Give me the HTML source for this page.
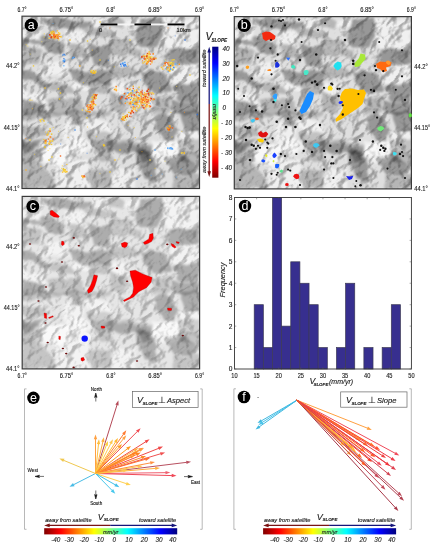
<!DOCTYPE html>
<html><head><meta charset="utf-8"><style>
html,body{margin:0;padding:0;background:#fff;width:433px;height:550px;overflow:hidden}
svg{display:block}
text{font-family:'Liberation Sans',Arial,sans-serif;fill:#1a1a1a;stroke:#1a1a1a;stroke-width:0.12px}
.it{font-style:italic}
</style></head><body>
<svg width="433" height="550" viewBox="0 0 433 550">

<defs><linearGradient id="jetv" x1="0" y1="0" x2="0" y2="1"><stop offset="0.000" stop-color="#00007f"/><stop offset="0.062" stop-color="#0000bf"/><stop offset="0.125" stop-color="#0000ff"/><stop offset="0.188" stop-color="#003fff"/><stop offset="0.250" stop-color="#007fff"/><stop offset="0.312" stop-color="#00bfff"/><stop offset="0.375" stop-color="#00ffff"/><stop offset="0.438" stop-color="#3fffbf"/><stop offset="0.500" stop-color="#7fff7f"/><stop offset="0.562" stop-color="#bfff3f"/><stop offset="0.625" stop-color="#ffff00"/><stop offset="0.688" stop-color="#ffbf00"/><stop offset="0.750" stop-color="#ff7f00"/><stop offset="0.812" stop-color="#ff3f00"/><stop offset="0.875" stop-color="#ff0000"/><stop offset="0.938" stop-color="#bf0000"/><stop offset="1.000" stop-color="#7f0000"/></linearGradient><linearGradient id="jeth" x1="0" y1="0" x2="1" y2="0"><stop offset="0.000" stop-color="#7f0000"/><stop offset="0.062" stop-color="#bf0000"/><stop offset="0.125" stop-color="#ff0000"/><stop offset="0.188" stop-color="#ff3f00"/><stop offset="0.250" stop-color="#ff7f00"/><stop offset="0.312" stop-color="#ffbf00"/><stop offset="0.375" stop-color="#ffff00"/><stop offset="0.438" stop-color="#bfff3f"/><stop offset="0.500" stop-color="#7fff7f"/><stop offset="0.562" stop-color="#3fffbf"/><stop offset="0.625" stop-color="#00ffff"/><stop offset="0.688" stop-color="#00bfff"/><stop offset="0.750" stop-color="#007fff"/><stop offset="0.812" stop-color="#003fff"/><stop offset="0.875" stop-color="#0000ff"/><stop offset="0.938" stop-color="#0000bf"/><stop offset="1.000" stop-color="#00007f"/></linearGradient><filter id="bl" x="-5%" y="-5%" width="110%" height="110%"><feTurbulence type="fractalNoise" baseFrequency="0.07" numOctaves="3" seed="2" result="t"/><feDisplacementMap in="SourceGraphic" in2="t" scale="9" xChannelSelector="R" yChannelSelector="G" result="d"/><feGaussianBlur in="d" stdDeviation="1.0"/></filter>
<filter id="tx" x="0" y="0" width="100%" height="100%" color-interpolation-filters="sRGB">
<feTurbulence type="fractalNoise" baseFrequency="0.04 0.06" numOctaves="4" seed="8" result="n"/>
<feColorMatrix in="n" type="matrix" values="0 0 0 0 0  0 0 0 0 0  0 0 0 0 0  1 0 0 0 0" result="h0"/>
<feComponentTransfer in="h0" result="h"><feFuncA type="table" tableValues="0 1 0"/></feComponentTransfer>
<feDiffuseLighting in="h" surfaceScale="5" diffuseConstant="1.45" lighting-color="#fff" result="l"><feDistantLight azimuth="225" elevation="42"/></feDiffuseLighting>
</filter>
<filter id="tx2" x="0" y="0" width="100%" height="100%" color-interpolation-filters="sRGB">
<feTurbulence type="fractalNoise" baseFrequency="0.035 0.07" numOctaves="4" seed="21" result="n"/>
<feColorMatrix in="n" type="matrix" values="0 0 0 0 0  0 0 0 0 0  0 0 0 0 0  1 0 0 0 0" result="h0"/>
<feComponentTransfer in="h0" result="h"><feFuncA type="table" tableValues="0 1 0"/></feComponentTransfer>
<feDiffuseLighting in="h" surfaceScale="5" diffuseConstant="1.45" lighting-color="#fff" result="l"><feDistantLight azimuth="225" elevation="42"/></feDiffuseLighting>
</filter><filter id="toneA" x="0" y="0" width="100%" height="100%" color-interpolation-filters="sRGB"><feComponentTransfer><feFuncR type="linear" slope="0.94" intercept="0.06"/><feFuncG type="linear" slope="0.94" intercept="0.06"/><feFuncB type="linear" slope="0.94" intercept="0.06"/></feComponentTransfer></filter><filter id="toneB" x="0" y="0" width="100%" height="100%" color-interpolation-filters="sRGB"><feComponentTransfer><feFuncR type="linear" slope="0.94" intercept="0.06"/><feFuncG type="linear" slope="0.94" intercept="0.06"/><feFuncB type="linear" slope="0.94" intercept="0.06"/></feComponentTransfer></filter><filter id="toneC" x="0" y="0" width="100%" height="100%" color-interpolation-filters="sRGB"><feComponentTransfer><feFuncR type="linear" slope="0.75" intercept="0.25"/><feFuncG type="linear" slope="0.75" intercept="0.25"/><feFuncB type="linear" slope="0.75" intercept="0.25"/></feComponentTransfer></filter><symbol id="relief" viewBox="0 0 178 172.5" width="178" height="172.5" overflow="hidden"><rect width="178" height="172.5" fill="#dedede"/><g filter="url(#bl)" fill="#fff"><polygon points="-0.5,14.0 20.3,15.0 20.3,26.5 -0.5,25.0" fill-opacity="0.55"/><polygon points="43.2,14.0 61.9,15.0 61.9,28.6 43.2,27.0" fill-opacity="0.55"/><polygon points="68.1,1.6 89.5,1.6 89.5,12.0 68.1,10.0" fill-opacity="0.55"/><polygon points="140.5,1.6 178.5,1.6 178.5,30.0 150.0,32.8 142.0,25.0" fill-opacity="0.55"/><polygon points="101.0,1.6 117.6,1.6 117.6,10.0 101.0,10.0" fill-opacity="0.55"/><polygon points="20.3,47.5 47.3,47.5 47.3,60.0 20.3,58.0" fill-opacity="0.55"/><polygon points="49.4,60.0 68.1,62.0 68.1,74.5 49.4,72.0" fill-opacity="0.55"/><polygon points="-0.5,74.5 24.4,76.0 24.4,89.0 -0.5,87.0" fill-opacity="0.55"/><polygon points="146.7,47.5 178.5,47.5 178.5,64.0 150.0,66.2" fill-opacity="0.55"/><polygon points="88.5,66.2 107.2,66.2 107.2,78.7 88.5,78.7" fill-opacity="0.55"/><polygon points="41.1,108.0 61.9,108.0 61.9,137.0 45.0,137.0" fill-opacity="0.55"/><polygon points="61.9,99.7 89.5,105.0 89.5,116.3 64.0,114.0" fill-opacity="0.55"/><polygon points="20.3,128.8 49.4,128.8 49.4,145.6 20.3,145.6" fill-opacity="0.55"/><polygon points="130.1,126.7 157.1,126.7 157.1,145.6 130.1,145.6" fill-opacity="0.55"/><polygon points="157.1,116.3 178.5,116.3 178.5,137.1 160.0,137.1" fill-opacity="0.55"/><polygon points="12.0,129.7 47.3,129.7 47.3,148.4 12.0,148.4" fill-opacity="0.55"/><polygon points="30.7,144.3 68.1,144.3 68.1,172.6 36.0,172.6" fill-opacity="0.55"/><polygon points="51.5,123.5 70.2,123.5 70.2,133.9 51.5,133.9" fill-opacity="0.55"/><polygon points="130.1,123.5 157.1,123.5 157.1,140.1 130.1,140.1" fill-opacity="0.55"/><polygon points="88.5,152.6 113.4,152.6 113.4,172.6 88.5,172.6" fill-opacity="0.55"/></g><g filter="url(#bl)" fill="#000"><polygon points="20.3,1.6 49.4,1.6 68.1,5.7 68.1,9.9 49.4,12.0 30.7,10.9 20.3,7.8" fill-opacity="0.34"/><polygon points="59.8,10.9 76.4,12.0 89.5,15.1 89.5,20.3 74.3,19.3 61.9,16.1" fill-opacity="0.2"/><polygon points="-0.5,22.4 18.2,23.4 20.3,27.6 -0.5,28.6" fill-opacity="0.34"/><polygon points="18.2,20.3 30.7,20.3 43.2,28.6 43.2,39.0 30.7,36.9 20.3,30.7" fill-opacity="0.34"/><polygon points="45.2,28.6 61.9,28.6 68.1,41.1 51.5,41.1" fill-opacity="0.2"/><polygon points="68.1,28.0 89.5,29.0 89.5,50.0 72.0,49.0" fill-opacity="0.34"/><polygon points="-0.5,30.7 18.2,32.8 18.2,49.6 -0.5,49.6" fill-opacity="0.2"/><polygon points="117.6,1.6 140.5,1.6 141.5,20.3 134.2,30.7 117.6,30.7 114.5,18.2" fill-opacity="0.34"/><polygon points="88.5,1.6 101.0,2.6 101.0,12.0 88.5,12.0" fill-opacity="0.2"/><polygon points="88.5,30.7 117.6,32.8 117.6,41.1 88.5,40.0" fill-opacity="0.2"/><polygon points="148.8,32.8 178.5,30.7 178.5,49.6 146.7,49.6" fill-opacity="0.34"/><polygon points="88.5,20.3 109.3,22.4 113.4,30.7 88.5,30.7" fill-opacity="0.2"/><polygon points="-0.5,53.7 12.0,56.9 26.5,67.2 24.4,71.4 9.9,64.1 -0.5,62.1" fill-opacity="0.34"/><polygon points="47.3,54.0 89.5,54.0 89.5,68.0 68.1,68.0 51.5,65.0" fill-opacity="0.34"/><polygon points="24.4,66.2 49.4,70.4 51.5,78.7 30.7,76.6" fill-opacity="0.2"/><polygon points="68.1,65.2 89.5,66.2 89.5,78.7 70.2,76.6" fill-opacity="0.2"/><polygon points="-0.5,82.8 20.3,88.0 26.5,97.6 -0.5,97.6" fill-opacity="0.34"/><polygon points="26.5,82.8 61.9,83.9 64.0,97.6 30.7,97.6" fill-opacity="0.2"/><polygon points="117.6,53.7 142.6,55.8 148.8,74.5 130.1,74.5 119.7,66.2" fill-opacity="0.34"/><polygon points="88.5,49.6 115.5,51.7 115.5,60.0 88.5,60.0" fill-opacity="0.2"/><polygon points="148.8,68.3 178.5,66.2 178.5,84.9 157.1,84.9" fill-opacity="0.34"/><polygon points="88.5,76.6 105.1,78.7 105.1,97.6 88.5,97.6" fill-opacity="0.2"/><polygon points="132.2,78.7 150.9,80.8 150.9,97.6 132.2,97.6" fill-opacity="0.2"/><polygon points="152.0,86.0 178.5,85.0 178.5,97.6 154.0,97.6" fill-opacity="0.34"/><polygon points="41.1,95.5 57.7,95.5 61.9,108.0 51.5,108.0" fill-opacity="0.34"/><polygon points="57.7,95.5 89.5,95.5 89.5,99.7 61.9,101.7" fill-opacity="0.2"/><polygon points="-0.5,108.0 22.4,112.1 24.4,120.4 -0.5,118.4" fill-opacity="0.2"/><polygon points="66.0,118.0 89.5,116.0 89.5,135.0 70.0,135.0" fill-opacity="0.14"/><polygon points="-0.5,124.6 20.3,128.8 20.3,145.6 -0.5,145.6" fill-opacity="0.2"/><polygon points="-0.5,95.5 41.1,95.5 39.0,101.7 -0.5,103.8" fill-opacity="0.2"/><polygon points="132.2,99.7 144.6,97.6 157.1,114.2 152.9,126.7 142.6,122.5 134.2,112.1" fill-opacity="0.34"/><polygon points="157.1,95.5 178.5,95.5 178.5,114.2 163.3,116.3" fill-opacity="0.34"/><polygon points="88.5,122.5 130.1,128.8 130.1,137.1 88.5,135.0" fill-opacity="0.2"/><polygon points="115.5,132.9 130.1,135.0 136.3,145.6 119.7,145.6" fill-opacity="0.34"/><polygon points="157.1,137.1 178.5,136.0 178.5,145.6 157.1,145.6" fill-opacity="0.2"/><polygon points="-0.5,123.5 22.4,123.5 12.0,133.9 -0.5,138.1" fill-opacity="0.34"/><polygon points="70.2,123.5 89.5,123.5 89.5,146.4 78.5,144.3" fill-opacity="0.2"/><polygon points="-0.5,142.2 16.1,146.4 30.7,160.9 34.8,172.6 -0.5,172.6" fill-opacity="0.2"/><polygon points="68.1,154.7 89.5,154.7 89.5,172.6 70.2,172.6" fill-opacity="0.2"/><polygon points="88.5,125.6 130.1,131.8 130.1,138.1 88.5,136.0" fill-opacity="0.2"/><polygon points="113.4,136.0 125.9,133.9 136.3,150.5 134.2,165.1 123.8,163.0 115.5,148.4" fill-opacity="0.34"/><polygon points="157.1,123.5 178.5,123.5 178.5,140.1 159.2,138.1" fill-opacity="0.2"/><polygon points="142.6,142.2 157.1,140.1 175.8,146.4 173.7,158.8 150.9,158.8" fill-opacity="0.34"/><polygon points="150.9,159.9 178.5,159.9 178.5,172.6 150.9,172.6" fill-opacity="0.2"/></g><g style="mix-blend-mode:multiply" opacity="0.34"><rect x="-60" y="-60" width="300" height="300" filter="url(#tx)" transform="rotate(-35 89 86)"/></g></symbol></defs>
<g filter="url(#toneA)"><use href="#relief" x="22.0" y="16.2" width="177.5" height="172.3"/></g><rect x="22.0" y="16.2" width="177.5" height="172.3" fill="none" stroke="#3a3a3a" stroke-width="1.2"/><g filter="url(#toneB)"><use href="#relief" x="234.3" y="16.6" width="177.1" height="172.3"/></g><rect x="234.3" y="16.6" width="177.1" height="172.3" fill="none" stroke="#3a3a3a" stroke-width="1.2"/><g filter="url(#toneC)"><use href="#relief" x="22.2" y="196.4" width="177.4" height="172.5"/></g><rect x="22.2" y="196.4" width="177.4" height="172.5" fill="none" stroke="#3a3a3a" stroke-width="1.2"/>
<g><g opacity="0.9"><ellipse cx="55.0" cy="35.0" rx="8.0" ry="6.0" fill="#f4f0f4" opacity="0.18"/><rect x="57.0" y="37.6" width="1.4" height="1.4" fill="#ffc020"/><rect x="56.0" y="37.0" width="1.6" height="1.6" fill="#ff9a1a"/><rect x="51.3" y="36.9" width="1.0" height="1.0" fill="#e83a10"/><rect x="59.1" y="32.5" width="1.3" height="1.3" fill="#ffe050"/><rect x="53.7" y="33.9" width="1.2" height="1.2" fill="#ffc020"/><rect x="52.4" y="30.8" width="1.7" height="1.7" fill="#ff9a1a"/><rect x="58.1" y="38.3" width="1.1" height="1.1" fill="#ff9a1a"/><rect x="50.1" y="35.3" width="1.2" height="1.2" fill="#ffc020"/><rect x="57.3" y="37.3" width="1.3" height="1.3" fill="#e83a10"/><rect x="56.3" y="35.0" width="1.5" height="1.5" fill="#ff7a10"/><rect x="57.1" y="36.2" width="1.6" height="1.6" fill="#ff8a20"/><rect x="53.2" y="35.5" width="1.4" height="1.4" fill="#d82a10"/><rect x="51.8" y="36.4" width="1.3" height="1.3" fill="#ffc020"/><rect x="53.8" y="34.8" width="1.1" height="1.1" fill="#ffc020"/><rect x="55.6" y="34.3" width="1.4" height="1.4" fill="#e83a10"/><rect x="51.4" y="33.2" width="1.7" height="1.7" fill="#ffc830"/><rect x="55.3" y="35.8" width="1.2" height="1.2" fill="#ff6a18"/><rect x="51.7" y="37.2" width="1.2" height="1.2" fill="#ffc830"/><rect x="58.3" y="39.4" width="1.1" height="1.1" fill="#ffe050"/><rect x="50.5" y="36.9" width="1.5" height="1.5" fill="#e83a10"/><rect x="58.7" y="33.4" width="1.6" height="1.6" fill="#ffc020"/><rect x="49.0" y="34.0" width="1.7" height="1.7" fill="#e83a10"/><rect x="54.9" y="35.0" width="1.6" height="1.6" fill="#ffc020"/><rect x="56.9" y="34.9" width="1.6" height="1.6" fill="#d82a10"/><rect x="56.9" y="34.8" width="1.3" height="1.3" fill="#ff6a18"/><rect x="53.2" y="33.3" width="1.1" height="1.1" fill="#ffc020"/><rect x="56.1" y="34.7" width="1.5" height="1.5" fill="#ffc020"/><rect x="56.6" y="34.5" width="1.6" height="1.6" fill="#f05a10"/><rect x="57.8" y="32.1" width="1.3" height="1.3" fill="#ffc020"/><rect x="52.9" y="37.3" width="1.2" height="1.2" fill="#ff9a1a"/><rect x="52.9" y="35.1" width="1.5" height="1.5" fill="#ff5010"/><rect x="50.0" y="32.2" width="1.6" height="1.6" fill="#ffe050"/><rect x="54.0" y="36.7" width="1.7" height="1.7" fill="#f05a10"/><rect x="55.5" y="35.3" width="1.1" height="1.1" fill="#ff9a1a"/><rect x="50.6" y="31.1" width="1.1" height="1.1" fill="#ffc830"/><rect x="53.3" y="33.2" width="1.4" height="1.4" fill="#ff6a18"/><rect x="48.5" y="37.5" width="1.4" height="1.4" fill="#ffd040"/><rect x="55.6" y="36.5" width="1.5" height="1.5" fill="#ffb020"/><rect x="50.9" y="32.4" width="1.5" height="1.5" fill="#ffb020"/><rect x="54.4" y="34.0" width="1.3" height="1.3" fill="#ff7a10"/><rect x="50.6" y="36.1" width="1.6" height="1.6" fill="#e83a10"/><rect x="54.3" y="38.3" width="1.2" height="1.2" fill="#ffb020"/><rect x="54.3" y="35.7" width="1.5" height="1.5" fill="#d82a10"/><rect x="56.9" y="30.2" width="1.3" height="1.3" fill="#ffc830"/><rect x="53.1" y="34.0" width="1.4" height="1.4" fill="#ff6a18"/><rect x="57.2" y="33.8" width="1.5" height="1.5" fill="#ff8a20"/><rect x="60.1" y="35.9" width="1.7" height="1.7" fill="#ffd22a"/><rect x="59.1" y="35.8" width="1.3" height="1.3" fill="#ff7a10"/><rect x="51.4" y="31.4" width="1.6" height="1.6" fill="#e8c428"/><rect x="52.0" y="30.8" width="1.3" height="1.3" fill="#f0c830"/><rect x="55.4" y="33.8" width="1.0" height="1.0" fill="#ffe050"/><rect x="57.0" y="34.8" width="1.4" height="1.4" fill="#f0c830"/><rect x="53.8" y="31.7" width="1.2" height="1.2" fill="#f0c830"/><rect x="53.0" y="35.8" width="1.6" height="1.6" fill="#ff7a10"/><rect x="56.5" y="34.7" width="1.3" height="1.3" fill="#ff8a20"/><ellipse cx="63.8" cy="58.8" rx="3.2" ry="7.2" fill="#f4f0f4" opacity="0.2"/><rect x="63.3" y="53.7" width="1.5" height="1.5" fill="#2a70e0"/><rect x="63.2" y="65.1" width="1.3" height="1.3" fill="#60b0ff"/><rect x="63.3" y="58.1" width="1.2" height="1.2" fill="#2a70e0"/><rect x="64.5" y="54.7" width="1.1" height="1.1" fill="#4aa0f8"/><rect x="63.8" y="59.2" width="1.7" height="1.7" fill="#60b0ff"/><rect x="63.6" y="60.9" width="1.5" height="1.5" fill="#2a70e0"/><rect x="62.1" y="54.5" width="1.2" height="1.2" fill="#3a8cf0"/><rect x="62.6" y="60.1" width="1.6" height="1.6" fill="#4aa0f8"/><rect x="73.6" y="56.9" width="1.2" height="1.2" fill="#2a70e0"/><rect x="72.8" y="56.9" width="1.3" height="1.3" fill="#60b0ff"/><rect x="71.9" y="57.8" width="1.2" height="1.2" fill="#4aa0f8"/><rect x="72.4" y="56.6" width="1.1" height="1.1" fill="#4aa0f8"/><ellipse cx="92.8" cy="71.5" rx="4.2" ry="3.5" fill="#f4f0f4" opacity="0.2"/><rect x="94.8" y="71.2" width="1.7" height="1.7" fill="#ffe050"/><rect x="94.2" y="71.2" width="1.0" height="1.0" fill="#ffc020"/><rect x="90.3" y="71.1" width="1.7" height="1.7" fill="#ffc020"/><rect x="92.9" y="72.1" width="1.0" height="1.0" fill="#f0c830"/><rect x="93.9" y="72.4" width="1.6" height="1.6" fill="#ffc020"/><rect x="92.9" y="70.0" width="1.3" height="1.3" fill="#ffc020"/><rect x="92.1" y="72.3" width="1.6" height="1.6" fill="#ffc020"/><rect x="95.3" y="69.8" width="1.0" height="1.0" fill="#ffc020"/><rect x="93.5" y="71.3" width="1.6" height="1.6" fill="#f0c830"/><rect x="93.2" y="72.0" width="1.4" height="1.4" fill="#ffc020"/><rect x="90.7" y="69.8" width="1.6" height="1.6" fill="#ffe050"/><rect x="92.7" y="71.5" width="1.2" height="1.2" fill="#ffd22a"/><ellipse cx="123.5" cy="65.0" rx="4.5" ry="3.5" fill="#f4f0f4" opacity="0.3"/><rect x="123.5" y="64.2" width="1.0" height="1.0" fill="#3a8cf0"/><rect x="122.4" y="63.7" width="1.2" height="1.2" fill="#3a8cf0"/><rect x="124.1" y="65.8" width="1.2" height="1.2" fill="#60b0ff"/><rect x="123.1" y="64.7" width="1.7" height="1.7" fill="#2a70e0"/><rect x="120.5" y="65.3" width="1.5" height="1.5" fill="#60b0ff"/><rect x="125.8" y="65.5" width="1.1" height="1.1" fill="#3a8cf0"/><rect x="122.4" y="62.6" width="1.4" height="1.4" fill="#4aa0f8"/><rect x="124.5" y="64.5" width="1.3" height="1.3" fill="#60b0ff"/><rect x="124.1" y="61.7" width="1.5" height="1.5" fill="#4aa0f8"/><rect x="121.7" y="62.6" width="1.4" height="1.4" fill="#3a8cf0"/><rect x="124.4" y="63.9" width="1.7" height="1.7" fill="#2a70e0"/><rect x="124.4" y="64.4" width="1.4" height="1.4" fill="#3a8cf0"/><rect x="123.0" y="62.6" width="1.1" height="1.1" fill="#60b0ff"/><rect x="119.9" y="63.5" width="1.5" height="1.5" fill="#2a70e0"/><ellipse cx="148.0" cy="58.7" rx="8.0" ry="7.3" fill="#f4f0f4" opacity="0.18"/><rect x="149.5" y="56.7" width="1.4" height="1.4" fill="#ffc020"/><rect x="141.1" y="56.6" width="1.3" height="1.3" fill="#f05a10"/><rect x="154.9" y="57.6" width="1.7" height="1.7" fill="#ff9a1a"/><rect x="153.0" y="57.4" width="1.5" height="1.5" fill="#ff8a20"/><rect x="151.0" y="56.2" width="1.6" height="1.6" fill="#ffe050"/><rect x="149.2" y="59.7" width="1.3" height="1.3" fill="#d82a10"/><rect x="148.0" y="52.8" width="1.5" height="1.5" fill="#f0c830"/><rect x="150.0" y="63.5" width="1.2" height="1.2" fill="#ff6a18"/><rect x="146.9" y="61.9" width="1.3" height="1.3" fill="#ffb020"/><rect x="148.1" y="55.3" width="1.3" height="1.3" fill="#ffe050"/><rect x="146.7" y="52.8" width="1.7" height="1.7" fill="#e83a10"/><rect x="147.8" y="58.6" width="1.5" height="1.5" fill="#ffe050"/><rect x="148.1" y="60.1" width="1.5" height="1.5" fill="#ff6a18"/><rect x="146.8" y="57.2" width="1.6" height="1.6" fill="#f05a10"/><rect x="143.5" y="58.1" width="1.3" height="1.3" fill="#d82a10"/><rect x="142.8" y="55.1" width="1.6" height="1.6" fill="#ffc830"/><rect x="145.3" y="59.6" width="1.5" height="1.5" fill="#ffc830"/><rect x="149.3" y="57.0" width="1.6" height="1.6" fill="#ff7a10"/><rect x="147.4" y="55.8" width="1.1" height="1.1" fill="#f0c830"/><rect x="151.1" y="60.6" width="1.5" height="1.5" fill="#ff8a20"/><rect x="151.3" y="62.1" width="1.3" height="1.3" fill="#ffb020"/><rect x="146.0" y="55.4" width="1.5" height="1.5" fill="#ffc020"/><rect x="154.1" y="58.4" width="1.2" height="1.2" fill="#f0c830"/><rect x="146.3" y="55.1" width="1.1" height="1.1" fill="#ff9a1a"/><rect x="149.8" y="57.9" width="1.5" height="1.5" fill="#ff6a18"/><rect x="143.8" y="61.2" width="1.4" height="1.4" fill="#ffc020"/><rect x="149.6" y="60.5" width="1.3" height="1.3" fill="#d82a10"/><rect x="146.4" y="53.9" width="1.3" height="1.3" fill="#ffd22a"/><rect x="152.3" y="58.6" width="1.3" height="1.3" fill="#ffd22a"/><rect x="148.4" y="51.2" width="1.5" height="1.5" fill="#ffc020"/><rect x="145.1" y="58.0" width="1.6" height="1.6" fill="#e8c428"/><rect x="146.1" y="55.4" width="1.7" height="1.7" fill="#d82a10"/><rect x="148.1" y="59.6" width="1.4" height="1.4" fill="#f05a10"/><rect x="147.6" y="59.5" width="1.4" height="1.4" fill="#ffc830"/><rect x="146.2" y="57.0" width="1.1" height="1.1" fill="#ff8a20"/><rect x="146.0" y="57.8" width="1.2" height="1.2" fill="#ffc830"/><rect x="147.3" y="61.3" width="1.6" height="1.6" fill="#ff9a1a"/><rect x="149.0" y="53.4" width="1.6" height="1.6" fill="#ff5010"/><rect x="151.2" y="58.7" width="1.6" height="1.6" fill="#ff6a18"/><rect x="148.2" y="53.1" width="1.4" height="1.4" fill="#ffd040"/><rect x="146.5" y="61.0" width="1.3" height="1.3" fill="#f0c830"/><rect x="142.7" y="61.8" width="1.0" height="1.0" fill="#ffe050"/><rect x="143.7" y="56.1" width="1.6" height="1.6" fill="#f05a10"/><rect x="147.4" y="56.3" width="1.2" height="1.2" fill="#ffc830"/><rect x="146.5" y="62.6" width="1.6" height="1.6" fill="#ffb020"/><rect x="142.4" y="62.5" width="1.3" height="1.3" fill="#ffc830"/><rect x="144.5" y="55.4" width="1.4" height="1.4" fill="#ffc020"/><rect x="147.1" y="57.0" width="1.4" height="1.4" fill="#e8c428"/><rect x="142.0" y="60.3" width="1.0" height="1.0" fill="#ff8a20"/><rect x="148.7" y="60.0" width="1.1" height="1.1" fill="#e8c428"/><rect x="153.2" y="58.4" width="1.6" height="1.6" fill="#d82a10"/><rect x="147.2" y="60.9" width="1.6" height="1.6" fill="#ff8a20"/><rect x="146.3" y="62.1" width="1.6" height="1.6" fill="#ffc020"/><rect x="144.1" y="58.2" width="1.6" height="1.6" fill="#f05a10"/><rect x="145.9" y="63.1" width="1.5" height="1.5" fill="#ff7a10"/><rect x="149.1" y="56.2" width="1.7" height="1.7" fill="#e8c428"/><rect x="141.2" y="55.8" width="1.5" height="1.5" fill="#e83a10"/><rect x="151.7" y="58.6" width="1.6" height="1.6" fill="#ff8a20"/><rect x="148.6" y="53.8" width="1.5" height="1.5" fill="#ffc830"/><rect x="152.4" y="53.1" width="1.6" height="1.6" fill="#ff8a20"/><ellipse cx="170.3" cy="65.8" rx="9.3" ry="7.1" fill="#f4f0f4" opacity="0.18"/><rect x="163.2" y="65.2" width="1.4" height="1.4" fill="#ff9a1a"/><rect x="167.1" y="62.4" width="1.5" height="1.5" fill="#f05a10"/><rect x="170.4" y="61.6" width="1.0" height="1.0" fill="#ffd22a"/><rect x="169.8" y="63.5" width="1.1" height="1.1" fill="#60b0ff"/><rect x="175.4" y="66.6" width="1.1" height="1.1" fill="#ffd22a"/><rect x="164.3" y="62.8" width="1.6" height="1.6" fill="#f05a10"/><rect x="166.0" y="66.7" width="1.5" height="1.5" fill="#e8c428"/><rect x="169.6" y="65.5" width="1.3" height="1.3" fill="#ffc830"/><rect x="160.7" y="66.6" width="1.6" height="1.6" fill="#ffc830"/><rect x="170.9" y="63.9" width="1.2" height="1.2" fill="#ffc020"/><rect x="166.0" y="68.5" width="1.6" height="1.6" fill="#ffc830"/><rect x="170.1" y="63.3" width="1.7" height="1.7" fill="#f0c830"/><rect x="171.6" y="67.7" width="1.1" height="1.1" fill="#ffd22a"/><rect x="170.7" y="65.4" width="1.2" height="1.2" fill="#f0c830"/><rect x="169.9" y="66.8" width="1.2" height="1.2" fill="#ff9a1a"/><rect x="167.6" y="64.0" width="1.1" height="1.1" fill="#f05a10"/><rect x="166.4" y="66.5" width="1.5" height="1.5" fill="#3a8cf0"/><rect x="171.6" y="59.3" width="1.5" height="1.5" fill="#f0c830"/><rect x="169.8" y="67.9" width="1.2" height="1.2" fill="#4aa0f8"/><rect x="169.8" y="63.0" width="1.7" height="1.7" fill="#e8c428"/><rect x="178.7" y="63.7" width="1.3" height="1.3" fill="#ff9a1a"/><rect x="171.7" y="68.9" width="1.7" height="1.7" fill="#3a8cf0"/><rect x="171.0" y="64.4" width="1.5" height="1.5" fill="#60b0ff"/><rect x="173.3" y="59.0" width="1.4" height="1.4" fill="#ffd22a"/><rect x="169.5" y="64.5" width="1.2" height="1.2" fill="#ffc020"/><rect x="169.4" y="64.9" width="1.6" height="1.6" fill="#2a70e0"/><rect x="173.0" y="66.7" width="1.7" height="1.7" fill="#3a8cf0"/><rect x="170.8" y="61.8" width="1.2" height="1.2" fill="#ffe050"/><rect x="167.6" y="70.3" width="1.2" height="1.2" fill="#ffe050"/><rect x="171.5" y="64.3" width="1.6" height="1.6" fill="#ffc020"/><rect x="168.4" y="67.4" width="1.2" height="1.2" fill="#f0c830"/><rect x="169.5" y="62.2" width="1.4" height="1.4" fill="#ffe050"/><rect x="164.2" y="60.2" width="1.3" height="1.3" fill="#60b0ff"/><rect x="167.5" y="70.8" width="1.5" height="1.5" fill="#60b0ff"/><rect x="169.1" y="67.1" width="1.4" height="1.4" fill="#ffd040"/><rect x="164.5" y="61.8" width="1.4" height="1.4" fill="#ff7a10"/><rect x="168.9" y="69.6" width="1.7" height="1.7" fill="#ffd22a"/><rect x="171.9" y="64.6" width="1.7" height="1.7" fill="#ff9a1a"/><rect x="169.0" y="70.3" width="1.3" height="1.3" fill="#f0c830"/><rect x="169.1" y="68.9" width="1.1" height="1.1" fill="#e8c428"/><rect x="166.1" y="61.9" width="1.1" height="1.1" fill="#f05a10"/><rect x="168.1" y="64.6" width="1.7" height="1.7" fill="#ff9a1a"/><rect x="168.0" y="61.7" width="1.4" height="1.4" fill="#ffc020"/><rect x="170.0" y="68.5" width="1.3" height="1.3" fill="#3a8cf0"/><rect x="169.2" y="69.9" width="1.3" height="1.3" fill="#ffd22a"/><rect x="162.0" y="68.3" width="1.5" height="1.5" fill="#ffc830"/><rect x="174.8" y="63.2" width="1.6" height="1.6" fill="#60b0ff"/><rect x="168.3" y="70.2" width="1.2" height="1.2" fill="#ff8a20"/><rect x="164.8" y="64.6" width="1.2" height="1.2" fill="#ff9a1a"/><rect x="172.7" y="64.7" width="1.1" height="1.1" fill="#ffd040"/><rect x="164.7" y="59.7" width="1.1" height="1.1" fill="#ffe050"/><rect x="172.2" y="68.8" width="1.5" height="1.5" fill="#e8c428"/><rect x="172.2" y="62.2" width="1.6" height="1.6" fill="#e8c428"/><rect x="167.0" y="66.9" width="1.5" height="1.5" fill="#ff9a1a"/><rect x="165.5" y="68.2" width="1.1" height="1.1" fill="#3a8cf0"/><ellipse cx="137.5" cy="98.0" rx="16.5" ry="12.0" fill="#f4f0f4" opacity="0.18"/><rect x="130.6" y="104.3" width="1.1" height="1.1" fill="#ff8a20"/><rect x="139.1" y="92.6" width="1.3" height="1.3" fill="#e8c428"/><rect x="134.6" y="107.1" width="1.6" height="1.6" fill="#e8c428"/><rect x="131.1" y="96.7" width="1.3" height="1.3" fill="#ffc020"/><rect x="149.5" y="102.9" width="1.3" height="1.3" fill="#60b0ff"/><rect x="128.8" y="88.8" width="1.5" height="1.5" fill="#e8c428"/><rect x="127.5" y="101.7" width="1.0" height="1.0" fill="#ff9a1a"/><rect x="137.1" y="101.6" width="1.4" height="1.4" fill="#ffd22a"/><rect x="136.0" y="91.3" width="1.6" height="1.6" fill="#e83a10"/><rect x="131.2" y="107.1" width="1.2" height="1.2" fill="#ff7a10"/><rect x="136.1" y="96.1" width="1.4" height="1.4" fill="#ffb020"/><rect x="140.3" y="98.5" width="1.3" height="1.3" fill="#e8c428"/><rect x="130.5" y="107.0" width="1.3" height="1.3" fill="#4aa0f8"/><rect x="137.6" y="101.4" width="1.5" height="1.5" fill="#ffc830"/><rect x="142.7" y="105.7" width="1.1" height="1.1" fill="#3a8cf0"/><rect x="130.1" y="92.3" width="1.7" height="1.7" fill="#2a70e0"/><rect x="120.0" y="97.9" width="1.5" height="1.5" fill="#f05a10"/><rect x="145.9" y="101.1" width="1.7" height="1.7" fill="#ffc020"/><rect x="141.9" y="106.6" width="1.2" height="1.2" fill="#ff5010"/><rect x="148.1" y="98.4" width="1.1" height="1.1" fill="#ffd040"/><rect x="128.2" y="92.9" width="1.5" height="1.5" fill="#ff7a10"/><rect x="142.6" y="95.5" width="1.1" height="1.1" fill="#ffb020"/><rect x="146.4" y="91.0" width="1.0" height="1.0" fill="#ff6a18"/><rect x="148.9" y="92.5" width="1.3" height="1.3" fill="#e8c428"/><rect x="130.6" y="101.7" width="1.5" height="1.5" fill="#f0c830"/><rect x="153.3" y="98.9" width="1.0" height="1.0" fill="#ffc020"/><rect x="127.1" y="95.0" width="1.2" height="1.2" fill="#ffe050"/><rect x="132.6" y="85.6" width="1.4" height="1.4" fill="#ffb020"/><rect x="141.6" y="89.7" width="1.2" height="1.2" fill="#f05a10"/><rect x="132.6" y="105.7" width="1.1" height="1.1" fill="#ffd040"/><rect x="123.6" y="93.0" width="1.4" height="1.4" fill="#ffd040"/><rect x="129.5" y="101.5" width="1.6" height="1.6" fill="#ff9a1a"/><rect x="136.0" y="105.7" width="1.5" height="1.5" fill="#ff8a20"/><rect x="130.2" y="101.4" width="1.6" height="1.6" fill="#ffc020"/><rect x="125.8" y="97.9" width="1.6" height="1.6" fill="#ff6a18"/><rect x="130.1" y="96.5" width="1.0" height="1.0" fill="#e8c428"/><rect x="134.0" y="89.8" width="1.3" height="1.3" fill="#ffd040"/><rect x="138.0" y="97.2" width="1.7" height="1.7" fill="#ffc020"/><rect x="140.7" y="100.8" width="1.0" height="1.0" fill="#d82a10"/><rect x="125.8" y="98.3" width="1.6" height="1.6" fill="#e83a10"/><rect x="151.1" y="93.5" width="1.2" height="1.2" fill="#f05a10"/><rect x="141.7" y="101.1" width="1.3" height="1.3" fill="#ffb020"/><rect x="134.6" y="102.6" width="1.1" height="1.1" fill="#ff8a20"/><rect x="147.6" y="89.2" width="1.6" height="1.6" fill="#ffe050"/><rect x="141.2" y="94.3" width="1.4" height="1.4" fill="#60b0ff"/><rect x="138.8" y="104.7" width="1.2" height="1.2" fill="#ffd22a"/><rect x="136.9" y="95.8" width="1.0" height="1.0" fill="#ffe050"/><rect x="143.2" y="104.2" width="1.3" height="1.3" fill="#f05a10"/><rect x="141.4" y="91.5" width="1.3" height="1.3" fill="#d82a10"/><rect x="146.2" y="106.3" width="1.4" height="1.4" fill="#ffe050"/><rect x="134.7" y="99.6" width="1.4" height="1.4" fill="#ffd22a"/><rect x="133.5" y="102.7" width="1.1" height="1.1" fill="#f0c830"/><rect x="136.2" y="101.9" width="1.6" height="1.6" fill="#ff8a20"/><rect x="143.1" y="99.3" width="1.5" height="1.5" fill="#ff8a20"/><rect x="141.4" y="93.2" width="1.6" height="1.6" fill="#d82a10"/><rect x="140.2" y="91.1" width="1.7" height="1.7" fill="#ff6a18"/><rect x="135.2" y="91.0" width="1.4" height="1.4" fill="#4aa0f8"/><rect x="140.4" y="102.0" width="1.1" height="1.1" fill="#f0c830"/><rect x="138.4" y="86.5" width="1.4" height="1.4" fill="#e8c428"/><rect x="131.9" y="100.6" width="1.1" height="1.1" fill="#ffc830"/><rect x="123.9" y="92.9" width="1.4" height="1.4" fill="#f05a10"/><rect x="128.5" y="103.1" width="1.6" height="1.6" fill="#f0c830"/><rect x="142.9" y="105.6" width="1.3" height="1.3" fill="#f0c830"/><rect x="146.8" y="103.6" width="1.1" height="1.1" fill="#ffc020"/><rect x="142.4" y="98.1" width="1.5" height="1.5" fill="#ffd22a"/><rect x="146.5" y="100.7" width="1.3" height="1.3" fill="#ff5010"/><rect x="138.2" y="97.9" width="1.1" height="1.1" fill="#ffc020"/><rect x="135.1" y="98.1" width="1.3" height="1.3" fill="#ffd22a"/><rect x="140.9" y="95.1" width="1.5" height="1.5" fill="#ffd22a"/><rect x="146.8" y="96.9" width="1.5" height="1.5" fill="#ff8a20"/><rect x="140.3" y="99.9" width="1.5" height="1.5" fill="#ffb020"/><rect x="134.4" y="102.7" width="1.5" height="1.5" fill="#ffc020"/><rect x="135.6" y="93.1" width="1.4" height="1.4" fill="#f0c830"/><rect x="142.3" y="98.5" width="1.0" height="1.0" fill="#ffc830"/><rect x="145.7" y="92.7" width="1.3" height="1.3" fill="#ffc020"/><rect x="133.7" y="105.8" width="1.4" height="1.4" fill="#4aa0f8"/><rect x="134.7" y="90.9" width="1.1" height="1.1" fill="#ffe050"/><rect x="133.4" y="103.1" width="1.5" height="1.5" fill="#ffb020"/><rect x="141.2" y="93.0" width="1.6" height="1.6" fill="#f05a10"/><rect x="153.1" y="98.5" width="1.5" height="1.5" fill="#f05a10"/><rect x="139.5" y="92.6" width="1.3" height="1.3" fill="#ffb020"/><rect x="138.6" y="99.0" width="1.1" height="1.1" fill="#ff8a20"/><rect x="148.6" y="106.2" width="1.4" height="1.4" fill="#f0c830"/><rect x="130.8" y="97.1" width="1.4" height="1.4" fill="#ffd040"/><rect x="131.6" y="101.9" width="1.2" height="1.2" fill="#3a8cf0"/><rect x="126.6" y="87.9" width="1.6" height="1.6" fill="#ff5010"/><rect x="129.9" y="102.9" width="1.3" height="1.3" fill="#f05a10"/><rect x="139.4" y="101.3" width="1.6" height="1.6" fill="#ff8a20"/><rect x="124.7" y="101.1" width="1.3" height="1.3" fill="#60b0ff"/><rect x="152.2" y="98.8" width="1.6" height="1.6" fill="#ffb020"/><rect x="140.5" y="104.5" width="1.4" height="1.4" fill="#ffd040"/><rect x="146.4" y="90.2" width="1.7" height="1.7" fill="#d82a10"/><rect x="148.7" y="102.4" width="1.3" height="1.3" fill="#ffe050"/><rect x="143.8" y="102.2" width="1.6" height="1.6" fill="#ffc830"/><rect x="132.5" y="94.4" width="1.1" height="1.1" fill="#ffb020"/><rect x="137.3" y="97.3" width="1.7" height="1.7" fill="#ffd040"/><rect x="152.7" y="93.0" width="1.5" height="1.5" fill="#ffd040"/><rect x="126.2" y="95.8" width="1.6" height="1.6" fill="#ff7a10"/><rect x="140.1" y="93.2" width="1.7" height="1.7" fill="#f0c830"/><rect x="149.2" y="97.5" width="1.4" height="1.4" fill="#ffe050"/><rect x="138.0" y="98.2" width="1.6" height="1.6" fill="#ff6a18"/><rect x="121.1" y="96.1" width="1.6" height="1.6" fill="#e83a10"/><rect x="133.0" y="98.5" width="1.1" height="1.1" fill="#ffc830"/><rect x="138.4" y="94.4" width="1.7" height="1.7" fill="#3a8cf0"/><rect x="138.4" y="94.0" width="1.3" height="1.3" fill="#ffc020"/><rect x="147.8" y="92.4" width="1.1" height="1.1" fill="#ff6a18"/><rect x="124.6" y="102.8" width="1.3" height="1.3" fill="#ff8a20"/><rect x="141.1" y="102.4" width="1.6" height="1.6" fill="#ffc020"/><rect x="140.0" y="102.1" width="1.4" height="1.4" fill="#4aa0f8"/><rect x="130.3" y="92.2" width="1.6" height="1.6" fill="#ffd22a"/><rect x="135.4" y="101.6" width="1.2" height="1.2" fill="#f05a10"/><rect x="132.6" y="87.8" width="1.4" height="1.4" fill="#f05a10"/><rect x="130.8" y="89.9" width="1.0" height="1.0" fill="#f0c830"/><rect x="127.2" y="92.1" width="1.6" height="1.6" fill="#60b0ff"/><rect x="133.3" y="97.8" width="1.4" height="1.4" fill="#ff7a10"/><rect x="143.5" y="96.5" width="1.6" height="1.6" fill="#ffe050"/><rect x="130.7" y="98.3" width="1.2" height="1.2" fill="#ffc020"/><rect x="136.8" y="98.0" width="1.6" height="1.6" fill="#ffc020"/><rect x="148.9" y="99.1" width="1.3" height="1.3" fill="#ffc830"/><rect x="143.6" y="94.6" width="1.3" height="1.3" fill="#ffd22a"/><rect x="129.9" y="88.5" width="1.1" height="1.1" fill="#ffb020"/><rect x="128.1" y="94.5" width="1.4" height="1.4" fill="#ff9a1a"/><rect x="130.2" y="93.0" width="1.2" height="1.2" fill="#ff9a1a"/><rect x="139.8" y="97.9" width="1.2" height="1.2" fill="#4aa0f8"/><rect x="137.2" y="103.9" width="1.3" height="1.3" fill="#ffc830"/><rect x="138.5" y="99.1" width="1.3" height="1.3" fill="#d82a10"/><rect x="141.1" y="97.4" width="1.6" height="1.6" fill="#ff7a10"/><rect x="133.8" y="98.1" width="1.3" height="1.3" fill="#f0c830"/><rect x="149.7" y="97.3" width="1.5" height="1.5" fill="#ff7a10"/><rect x="138.7" y="106.2" width="1.6" height="1.6" fill="#ffc830"/><rect x="132.7" y="105.9" width="1.3" height="1.3" fill="#ff6a18"/><rect x="137.5" y="96.9" width="1.6" height="1.6" fill="#ff7a10"/><rect x="124.7" y="97.8" width="1.3" height="1.3" fill="#ff5010"/><rect x="131.8" y="90.1" width="1.4" height="1.4" fill="#3a8cf0"/><rect x="151.4" y="92.0" width="1.5" height="1.5" fill="#ffd040"/><rect x="135.7" y="103.5" width="1.4" height="1.4" fill="#ffc020"/><rect x="147.7" y="88.6" width="1.5" height="1.5" fill="#e83a10"/><rect x="128.7" y="93.4" width="1.6" height="1.6" fill="#ffc830"/><rect x="140.3" y="101.1" width="1.6" height="1.6" fill="#ff7a10"/><rect x="145.3" y="101.1" width="1.3" height="1.3" fill="#ff6a18"/><rect x="130.9" y="92.5" width="1.3" height="1.3" fill="#f0c830"/><rect x="139.0" y="100.6" width="1.3" height="1.3" fill="#4aa0f8"/><rect x="126.3" y="98.6" width="1.6" height="1.6" fill="#60b0ff"/><rect x="138.2" y="99.2" width="1.1" height="1.1" fill="#ffc830"/><rect x="132.3" y="99.5" width="1.7" height="1.7" fill="#ffb020"/><rect x="137.4" y="107.2" width="1.6" height="1.6" fill="#e8c428"/><rect x="145.1" y="98.1" width="1.7" height="1.7" fill="#ffc020"/><rect x="148.8" y="105.0" width="1.5" height="1.5" fill="#ff8a20"/><rect x="144.4" y="100.0" width="1.7" height="1.7" fill="#ffd040"/><rect x="131.0" y="95.9" width="1.1" height="1.1" fill="#3a8cf0"/><rect x="140.7" y="98.4" width="1.5" height="1.5" fill="#f0c830"/><rect x="140.3" y="95.7" width="1.7" height="1.7" fill="#ff7a10"/><rect x="139.0" y="98.0" width="1.7" height="1.7" fill="#ffb020"/><rect x="144.9" y="106.0" width="1.4" height="1.4" fill="#e83a10"/><rect x="130.3" y="106.2" width="1.3" height="1.3" fill="#ffb020"/><rect x="139.5" y="97.6" width="1.4" height="1.4" fill="#ffd22a"/><rect x="144.7" y="99.2" width="1.3" height="1.3" fill="#ffd040"/><rect x="125.2" y="101.7" width="1.1" height="1.1" fill="#f0c830"/><rect x="140.7" y="103.4" width="1.5" height="1.5" fill="#ff8a20"/><rect x="128.0" y="97.0" width="1.6" height="1.6" fill="#ff7a10"/><rect x="143.5" y="103.4" width="1.3" height="1.3" fill="#60b0ff"/><rect x="135.4" y="95.1" width="1.0" height="1.0" fill="#ff7a10"/><rect x="137.4" y="99.6" width="1.4" height="1.4" fill="#ffc830"/><rect x="136.0" y="89.3" width="1.6" height="1.6" fill="#ffb020"/><rect x="137.9" y="92.1" width="1.1" height="1.1" fill="#ff9a1a"/><rect x="147.6" y="105.1" width="1.2" height="1.2" fill="#ffd040"/><rect x="132.2" y="103.7" width="1.6" height="1.6" fill="#3a8cf0"/><rect x="147.0" y="99.9" width="1.0" height="1.0" fill="#ff7a10"/><rect x="129.3" y="102.6" width="1.5" height="1.5" fill="#ff7a10"/><rect x="144.3" y="95.2" width="1.6" height="1.6" fill="#ff9a1a"/><rect x="143.0" y="98.1" width="1.0" height="1.0" fill="#ff5010"/><rect x="149.8" y="92.5" width="1.1" height="1.1" fill="#ffd040"/><rect x="140.1" y="102.4" width="1.6" height="1.6" fill="#f0c830"/><rect x="143.4" y="95.0" width="1.2" height="1.2" fill="#2a70e0"/><rect x="129.8" y="99.2" width="1.1" height="1.1" fill="#2a70e0"/><rect x="133.7" y="95.3" width="1.4" height="1.4" fill="#ffb020"/><rect x="131.2" y="102.1" width="1.5" height="1.5" fill="#ffd22a"/><rect x="131.1" y="94.6" width="1.2" height="1.2" fill="#e83a10"/><rect x="141.9" y="99.0" width="1.6" height="1.6" fill="#e8c428"/><rect x="133.5" y="94.1" width="1.5" height="1.5" fill="#e83a10"/><ellipse cx="145.5" cy="100.5" rx="7.5" ry="8.5" fill="#f4f0f4" opacity="0.18"/><rect x="145.4" y="105.9" width="1.5" height="1.5" fill="#ffd040"/><rect x="140.9" y="97.7" width="1.0" height="1.0" fill="#ff6a18"/><rect x="147.3" y="96.9" width="1.1" height="1.1" fill="#ff6a18"/><rect x="141.8" y="101.5" width="1.6" height="1.6" fill="#ff7a10"/><rect x="145.4" y="104.9" width="1.5" height="1.5" fill="#ff8a20"/><rect x="147.2" y="99.0" width="1.4" height="1.4" fill="#ff6a18"/><rect x="143.1" y="107.1" width="1.5" height="1.5" fill="#d82a10"/><rect x="143.4" y="98.7" width="1.6" height="1.6" fill="#ffd040"/><rect x="150.5" y="97.9" width="1.6" height="1.6" fill="#d82a10"/><rect x="140.8" y="101.4" width="1.5" height="1.5" fill="#ff8a20"/><rect x="145.4" y="99.2" width="1.4" height="1.4" fill="#f05a10"/><rect x="148.2" y="95.4" width="1.1" height="1.1" fill="#ffc830"/><rect x="144.0" y="108.1" width="1.4" height="1.4" fill="#ffb020"/><rect x="146.3" y="105.2" width="1.6" height="1.6" fill="#ffd040"/><rect x="143.4" y="97.4" width="1.5" height="1.5" fill="#ffd040"/><rect x="146.2" y="96.0" width="1.0" height="1.0" fill="#d82a10"/><rect x="145.9" y="99.0" width="1.5" height="1.5" fill="#ffc830"/><rect x="145.6" y="95.2" width="1.3" height="1.3" fill="#ffb020"/><rect x="144.0" y="100.6" width="1.2" height="1.2" fill="#f05a10"/><rect x="143.0" y="99.0" width="1.7" height="1.7" fill="#ffc830"/><rect x="144.5" y="95.2" width="1.5" height="1.5" fill="#ff7a10"/><rect x="146.1" y="95.7" width="1.0" height="1.0" fill="#d82a10"/><rect x="147.4" y="100.1" width="1.1" height="1.1" fill="#ffb020"/><rect x="142.3" y="100.0" width="1.1" height="1.1" fill="#ff7a10"/><rect x="150.0" y="99.8" width="1.1" height="1.1" fill="#ff9a1a"/><rect x="146.0" y="95.3" width="1.4" height="1.4" fill="#ffd040"/><rect x="139.9" y="100.7" width="1.1" height="1.1" fill="#ffb020"/><rect x="142.9" y="98.7" width="1.4" height="1.4" fill="#ffc830"/><rect x="142.8" y="105.1" width="1.0" height="1.0" fill="#ffb020"/><rect x="147.5" y="99.0" width="1.3" height="1.3" fill="#ff7a10"/><rect x="144.4" y="102.7" width="1.5" height="1.5" fill="#ffc830"/><rect x="146.3" y="101.4" width="1.4" height="1.4" fill="#d82a10"/><rect x="145.6" y="102.3" width="1.0" height="1.0" fill="#ff9a1a"/><rect x="140.1" y="94.8" width="1.1" height="1.1" fill="#ffc830"/><rect x="142.5" y="99.3" width="1.5" height="1.5" fill="#ff6a18"/><rect x="148.1" y="102.5" width="1.1" height="1.1" fill="#ff9a1a"/><rect x="142.7" y="97.1" width="1.1" height="1.1" fill="#d82a10"/><rect x="144.5" y="98.1" width="1.2" height="1.2" fill="#ff6a18"/><rect x="144.5" y="94.8" width="1.6" height="1.6" fill="#ffb020"/><rect x="141.8" y="99.4" width="1.4" height="1.4" fill="#ff6a18"/><rect x="143.6" y="93.5" width="1.6" height="1.6" fill="#ff9a1a"/><rect x="148.1" y="100.4" width="1.2" height="1.2" fill="#e83a10"/><rect x="144.0" y="96.8" width="1.1" height="1.1" fill="#ffc830"/><rect x="142.9" y="98.2" width="1.4" height="1.4" fill="#ff9a1a"/><rect x="143.0" y="102.5" width="1.1" height="1.1" fill="#ffc830"/><rect x="143.0" y="94.2" width="1.1" height="1.1" fill="#ff8a20"/><rect x="145.3" y="93.3" width="1.6" height="1.6" fill="#ff8a20"/><rect x="146.2" y="99.0" width="1.0" height="1.0" fill="#ffd040"/><rect x="143.8" y="99.1" width="1.2" height="1.2" fill="#ffb020"/><rect x="141.6" y="105.0" width="1.2" height="1.2" fill="#e83a10"/><rect x="146.1" y="98.8" width="1.2" height="1.2" fill="#ff5010"/><rect x="147.4" y="101.3" width="1.1" height="1.1" fill="#f05a10"/><rect x="147.4" y="92.9" width="1.7" height="1.7" fill="#e83a10"/><rect x="140.6" y="98.8" width="1.2" height="1.2" fill="#ff7a10"/><rect x="148.3" y="94.4" width="1.2" height="1.2" fill="#e83a10"/><rect x="146.1" y="103.7" width="1.6" height="1.6" fill="#ff8a20"/><rect x="149.6" y="105.7" width="1.6" height="1.6" fill="#ff5010"/><rect x="144.7" y="96.1" width="1.6" height="1.6" fill="#d82a10"/><rect x="142.2" y="99.2" width="1.5" height="1.5" fill="#ff7a10"/><rect x="144.0" y="92.0" width="1.2" height="1.2" fill="#ffc830"/><line x1="136" y1="108" x2="122" y2="120" stroke="#f4f0f4" stroke-width="6" stroke-linecap="round" opacity="0.175"/><rect x="127.1" y="116.7" width="1.2" height="1.2" fill="#e8c428"/><rect x="131.1" y="109.8" width="1.5" height="1.5" fill="#d82a10"/><rect x="124.3" y="117.4" width="1.6" height="1.6" fill="#ffb020"/><rect x="122.3" y="118.4" width="1.0" height="1.0" fill="#ff8a20"/><rect x="120.9" y="118.2" width="0.9" height="0.9" fill="#ffd22a"/><rect x="126.5" y="115.3" width="1.6" height="1.6" fill="#ffd22a"/><rect x="123.4" y="116.9" width="1.1" height="1.1" fill="#ffc020"/><rect x="130.8" y="109.9" width="1.3" height="1.3" fill="#ffb020"/><rect x="132.6" y="111.7" width="1.6" height="1.6" fill="#d82a10"/><rect x="130.2" y="112.7" width="1.3" height="1.3" fill="#f05a10"/><rect x="131.6" y="110.4" width="1.2" height="1.2" fill="#ffb020"/><rect x="129.9" y="112.7" width="0.9" height="0.9" fill="#e83a10"/><rect x="122.2" y="119.1" width="1.5" height="1.5" fill="#ff7a10"/><rect x="134.6" y="108.8" width="1.3" height="1.3" fill="#ffc830"/><rect x="122.7" y="113.6" width="1.0" height="1.0" fill="#ffd040"/><rect x="135.4" y="110.3" width="0.9" height="0.9" fill="#ff6a18"/><rect x="123.0" y="116.9" width="1.1" height="1.1" fill="#ffb020"/><rect x="125.8" y="119.3" width="1.0" height="1.0" fill="#ffc830"/><rect x="123.8" y="119.8" width="0.9" height="0.9" fill="#ff5010"/><rect x="131.2" y="110.6" width="1.4" height="1.4" fill="#ffd22a"/><rect x="123.6" y="117.3" width="1.4" height="1.4" fill="#f0c830"/><rect x="130.4" y="113.6" width="1.0" height="1.0" fill="#e83a10"/><rect x="130.5" y="116.3" width="1.0" height="1.0" fill="#f05a10"/><rect x="132.9" y="107.3" width="1.3" height="1.3" fill="#ff8a20"/><rect x="121.9" y="119.0" width="1.3" height="1.3" fill="#ffd040"/><rect x="135.9" y="110.0" width="1.5" height="1.5" fill="#ffd040"/><rect x="132.6" y="108.4" width="0.9" height="0.9" fill="#ffc830"/><rect x="123.6" y="116.4" width="1.3" height="1.3" fill="#ffe050"/><rect x="126.6" y="114.1" width="1.3" height="1.3" fill="#ff7a10"/><rect x="122.4" y="116.2" width="1.1" height="1.1" fill="#ffb020"/><rect x="122.2" y="118.6" width="1.3" height="1.3" fill="#ffb020"/><rect x="129.1" y="115.7" width="1.2" height="1.2" fill="#d82a10"/><rect x="122.4" y="116.5" width="1.3" height="1.3" fill="#ffb020"/><rect x="123.1" y="116.2" width="1.5" height="1.5" fill="#ffd22a"/><rect x="129.8" y="111.9" width="1.1" height="1.1" fill="#d82a10"/><rect x="133.0" y="108.5" width="1.4" height="1.4" fill="#ffc830"/><rect x="125.0" y="116.9" width="1.1" height="1.1" fill="#d82a10"/><rect x="129.3" y="112.0" width="1.3" height="1.3" fill="#ffd22a"/><rect x="132.1" y="107.8" width="1.1" height="1.1" fill="#ffd22a"/><rect x="122.2" y="118.1" width="1.0" height="1.0" fill="#e83a10"/><rect x="131.4" y="110.4" width="1.5" height="1.5" fill="#e83a10"/><rect x="124.8" y="115.8" width="1.2" height="1.2" fill="#ff9a1a"/><rect x="124.6" y="115.0" width="1.6" height="1.6" fill="#e8c428"/><rect x="125.3" y="115.7" width="1.5" height="1.5" fill="#ffb020"/><rect x="128.0" y="111.8" width="1.1" height="1.1" fill="#e8c428"/><rect x="126.5" y="115.7" width="1.2" height="1.2" fill="#d82a10"/><rect x="134.3" y="106.6" width="1.2" height="1.2" fill="#ff9a1a"/><rect x="121.1" y="118.9" width="1.1" height="1.1" fill="#ffc020"/><rect x="130.3" y="113.0" width="0.9" height="0.9" fill="#d82a10"/><rect x="130.6" y="111.9" width="1.1" height="1.1" fill="#ff7a10"/><rect x="131.3" y="110.3" width="1.3" height="1.3" fill="#ff6a18"/><rect x="124.1" y="119.8" width="1.1" height="1.1" fill="#e8c428"/><rect x="121.7" y="118.0" width="1.0" height="1.0" fill="#d82a10"/><rect x="121.7" y="118.1" width="1.3" height="1.3" fill="#ff6a18"/><rect x="122.2" y="117.8" width="1.2" height="1.2" fill="#ffd040"/><line x1="95.5" y1="93.5" x2="89" y2="112" stroke="#f4f0f4" stroke-width="6.5" stroke-linecap="round" opacity="0.175"/><rect x="93.7" y="97.0" width="1.3" height="1.3" fill="#ffd040"/><rect x="89.6" y="106.6" width="1.1" height="1.1" fill="#ff7a10"/><rect x="86.3" y="105.8" width="1.3" height="1.3" fill="#ff7a10"/><rect x="92.3" y="107.6" width="1.4" height="1.4" fill="#d82a10"/><rect x="91.8" y="102.4" width="0.9" height="0.9" fill="#ff9a1a"/><rect x="89.8" y="111.3" width="1.0" height="1.0" fill="#ffd22a"/><rect x="95.1" y="97.4" width="1.1" height="1.1" fill="#ffc020"/><rect x="92.7" y="103.2" width="1.6" height="1.6" fill="#ffd040"/><rect x="91.8" y="105.7" width="1.2" height="1.2" fill="#ffb020"/><rect x="90.0" y="105.4" width="1.5" height="1.5" fill="#ff5010"/><rect x="94.7" y="94.2" width="1.3" height="1.3" fill="#ff7a10"/><rect x="88.3" y="107.2" width="1.3" height="1.3" fill="#ffd040"/><rect x="90.8" y="108.1" width="1.3" height="1.3" fill="#ffd040"/><rect x="90.9" y="100.9" width="1.1" height="1.1" fill="#ff9a1a"/><rect x="89.9" y="105.9" width="1.3" height="1.3" fill="#ff6a18"/><rect x="89.7" y="104.8" width="1.5" height="1.5" fill="#ff8a20"/><rect x="94.0" y="98.1" width="1.5" height="1.5" fill="#e83a10"/><rect x="87.9" y="108.6" width="1.3" height="1.3" fill="#ff7a10"/><rect x="88.2" y="106.6" width="1.5" height="1.5" fill="#ff9a1a"/><rect x="87.0" y="108.1" width="1.3" height="1.3" fill="#ffc020"/><rect x="93.2" y="94.0" width="1.2" height="1.2" fill="#ff9a1a"/><rect x="93.6" y="98.8" width="1.2" height="1.2" fill="#ffe050"/><rect x="89.5" y="105.4" width="1.1" height="1.1" fill="#ff9a1a"/><rect x="89.6" y="104.1" width="1.2" height="1.2" fill="#ff5010"/><rect x="89.8" y="105.8" width="1.5" height="1.5" fill="#ff6a18"/><rect x="88.4" y="111.0" width="1.4" height="1.4" fill="#ffd040"/><rect x="94.6" y="93.9" width="1.1" height="1.1" fill="#ff7a10"/><rect x="95.4" y="95.5" width="1.5" height="1.5" fill="#ff9a1a"/><rect x="89.7" y="106.2" width="1.2" height="1.2" fill="#ff9a1a"/><rect x="89.6" y="101.3" width="1.2" height="1.2" fill="#e8c428"/><rect x="92.0" y="107.9" width="1.1" height="1.1" fill="#ff7a10"/><rect x="90.2" y="106.5" width="1.2" height="1.2" fill="#ffc830"/><rect x="94.2" y="96.3" width="1.0" height="1.0" fill="#e8c428"/><rect x="91.9" y="105.5" width="1.2" height="1.2" fill="#ff8a20"/><rect x="91.4" y="103.4" width="1.4" height="1.4" fill="#ff6a18"/><rect x="93.2" y="103.5" width="1.4" height="1.4" fill="#ffd22a"/><rect x="93.6" y="96.5" width="1.5" height="1.5" fill="#d82a10"/><rect x="95.4" y="94.8" width="1.5" height="1.5" fill="#ffd040"/><rect x="89.7" y="107.3" width="1.4" height="1.4" fill="#f0c830"/><rect x="91.0" y="101.3" width="1.6" height="1.6" fill="#ff9a1a"/><rect x="91.7" y="106.1" width="1.2" height="1.2" fill="#f05a10"/><rect x="93.1" y="102.8" width="1.4" height="1.4" fill="#ff5010"/><rect x="87.1" y="106.2" width="1.5" height="1.5" fill="#ff8a20"/><rect x="91.6" y="107.9" width="1.0" height="1.0" fill="#ffc830"/><rect x="93.7" y="93.8" width="1.4" height="1.4" fill="#ff8a20"/><rect x="95.7" y="97.6" width="1.3" height="1.3" fill="#ffc830"/><rect x="92.8" y="104.1" width="0.9" height="0.9" fill="#ff9a1a"/><rect x="86.7" y="104.5" width="1.2" height="1.2" fill="#ff5010"/><rect x="89.6" y="107.0" width="1.3" height="1.3" fill="#e83a10"/><rect x="92.7" y="99.7" width="1.4" height="1.4" fill="#ffd040"/><rect x="89.6" y="108.6" width="1.2" height="1.2" fill="#ff5010"/><rect x="91.6" y="100.4" width="1.1" height="1.1" fill="#ffc830"/><rect x="93.5" y="97.4" width="1.0" height="1.0" fill="#ff8a20"/><rect x="88.2" y="104.1" width="1.1" height="1.1" fill="#ffc020"/><rect x="92.8" y="105.5" width="1.3" height="1.3" fill="#ffd040"/><rect x="90.5" y="106.5" width="1.1" height="1.1" fill="#e83a10"/><rect x="92.4" y="99.4" width="1.4" height="1.4" fill="#f0c830"/><rect x="91.7" y="103.5" width="1.6" height="1.6" fill="#ffb020"/><rect x="92.0" y="106.3" width="1.3" height="1.3" fill="#ffd040"/><rect x="91.5" y="101.2" width="1.1" height="1.1" fill="#f05a10"/><rect x="90.8" y="97.1" width="1.0" height="1.0" fill="#ffc830"/><rect x="91.9" y="95.8" width="1.0" height="1.0" fill="#ff9a1a"/><rect x="93.2" y="100.8" width="1.1" height="1.1" fill="#ffc830"/><rect x="86.3" y="110.7" width="1.0" height="1.0" fill="#ffc020"/><rect x="92.9" y="101.3" width="1.3" height="1.3" fill="#e83a10"/><rect x="91.9" y="95.9" width="1.6" height="1.6" fill="#f0c830"/><rect x="95.4" y="94.4" width="1.5" height="1.5" fill="#d82a10"/><rect x="93.7" y="94.0" width="1.3" height="1.3" fill="#f0c830"/><rect x="94.8" y="104.1" width="1.5" height="1.5" fill="#ffc020"/><rect x="90.8" y="108.1" width="1.5" height="1.5" fill="#f05a10"/><rect x="87.3" y="110.8" width="1.4" height="1.4" fill="#ff9a1a"/><rect x="91.3" y="109.2" width="1.5" height="1.5" fill="#f05a10"/><rect x="94.5" y="94.2" width="1.5" height="1.5" fill="#f05a10"/><rect x="91.1" y="107.4" width="1.4" height="1.4" fill="#ff9a1a"/><rect x="85.2" y="109.6" width="1.1" height="1.1" fill="#ffb020"/><rect x="91.7" y="97.4" width="1.1" height="1.1" fill="#ffc020"/><rect x="92.7" y="99.0" width="0.9" height="0.9" fill="#ff7a10"/><rect x="92.6" y="100.0" width="1.0" height="1.0" fill="#ff8a20"/><rect x="89.2" y="111.3" width="1.3" height="1.3" fill="#f05a10"/><rect x="96.7" y="94.0" width="1.1" height="1.1" fill="#ff8a20"/><ellipse cx="116.0" cy="87.8" rx="3.5" ry="4.2" fill="#f4f0f4" opacity="0.15"/><rect x="115.3" y="88.8" width="1.6" height="1.6" fill="#ff9a1a"/><rect x="113.9" y="88.6" width="1.5" height="1.5" fill="#ffb020"/><rect x="115.6" y="89.8" width="1.5" height="1.5" fill="#ff8a20"/><rect x="116.1" y="89.3" width="1.1" height="1.1" fill="#ffd040"/><rect x="113.8" y="89.3" width="1.0" height="1.0" fill="#ff8a20"/><rect x="115.1" y="88.6" width="1.1" height="1.1" fill="#ffc830"/><rect x="115.4" y="85.8" width="1.6" height="1.6" fill="#ff8a20"/><rect x="115.5" y="88.9" width="1.3" height="1.3" fill="#ffd040"/><ellipse cx="40.8" cy="120.7" rx="4.1" ry="3.1" fill="#f4f0f4" opacity="0.1"/><rect x="41.2" y="118.8" width="1.1" height="1.1" fill="#ffe050"/><rect x="39.5" y="119.5" width="1.4" height="1.4" fill="#ffc020"/><rect x="39.9" y="120.8" width="1.5" height="1.5" fill="#ffe050"/><rect x="43.1" y="120.1" width="1.1" height="1.1" fill="#f0c830"/><rect x="42.0" y="118.6" width="1.2" height="1.2" fill="#ffe050"/><rect x="43.4" y="120.3" width="1.4" height="1.4" fill="#e8c428"/><rect x="49.3" y="130.4" width="1.6" height="1.6" fill="#ff7a10"/><rect x="44.0" y="146.2" width="1.7" height="1.7" fill="#e8c428"/><rect x="46.4" y="134.3" width="1.4" height="1.4" fill="#ff9a1a"/><rect x="44.8" y="141.3" width="1.6" height="1.6" fill="#ff9a1a"/><rect x="47.7" y="131.2" width="1.5" height="1.5" fill="#ffe050"/><rect x="51.0" y="143.8" width="1.3" height="1.3" fill="#f0c830"/><rect x="48.7" y="143.2" width="1.7" height="1.7" fill="#ffb020"/><rect x="49.3" y="128.1" width="1.6" height="1.6" fill="#ffe050"/><rect x="46.8" y="133.4" width="1.9" height="1.9" fill="#f0c830"/><rect x="49.1" y="140.6" width="1.8" height="1.8" fill="#ff9a1a"/><rect x="48.1" y="142.5" width="1.6" height="1.6" fill="#ffd040"/><rect x="49.5" y="140.1" width="1.7" height="1.7" fill="#ffd040"/><rect x="47.9" y="138.4" width="1.4" height="1.4" fill="#ff7a10"/><rect x="43.2" y="138.9" width="1.3" height="1.3" fill="#f0c830"/><rect x="52.4" y="138.4" width="1.3" height="1.3" fill="#f05a10"/><rect x="49.5" y="136.1" width="1.8" height="1.8" fill="#ff8a20"/><rect x="44.5" y="142.1" width="2.0" height="2.0" fill="#ffc830"/><rect x="51.6" y="140.2" width="1.6" height="1.6" fill="#ffd22a"/><rect x="44.7" y="139.7" width="2.0" height="2.0" fill="#ff7a10"/><rect x="50.9" y="133.4" width="1.5" height="1.5" fill="#e8c428"/><ellipse cx="64.7" cy="168.6" rx="5.1" ry="5.1" fill="#f4f0f4" opacity="0.2"/><rect x="62.7" y="168.0" width="1.3" height="1.3" fill="#e8c428"/><rect x="62.8" y="169.2" width="1.7" height="1.7" fill="#f0c830"/><rect x="61.8" y="165.4" width="1.0" height="1.0" fill="#ffd22a"/><rect x="63.9" y="168.8" width="1.6" height="1.6" fill="#e8c428"/><rect x="66.3" y="163.9" width="1.1" height="1.1" fill="#ffc020"/><rect x="64.7" y="169.4" width="1.2" height="1.2" fill="#ffc020"/><rect x="62.7" y="168.4" width="1.5" height="1.5" fill="#e8c428"/><rect x="63.4" y="170.7" width="1.4" height="1.4" fill="#ffc020"/><rect x="65.9" y="170.8" width="1.7" height="1.7" fill="#ffc020"/><rect x="61.9" y="171.4" width="1.4" height="1.4" fill="#ffc020"/><rect x="63.6" y="169.7" width="1.5" height="1.5" fill="#ffd22a"/><rect x="65.0" y="169.2" width="1.1" height="1.1" fill="#e8c428"/><rect x="64.7" y="171.4" width="1.4" height="1.4" fill="#e8c428"/><rect x="64.5" y="170.9" width="1.1" height="1.1" fill="#ffd22a"/><ellipse cx="83.3" cy="176.9" rx="3.1" ry="3.1" fill="#f4f0f4" opacity="0.2"/><rect x="81.4" y="175.5" width="1.1" height="1.1" fill="#d82a10"/><rect x="82.1" y="176.5" width="1.1" height="1.1" fill="#ff9a1a"/><rect x="82.3" y="176.2" width="1.2" height="1.2" fill="#ff6a18"/><rect x="82.5" y="175.8" width="1.6" height="1.6" fill="#ff7a10"/><rect x="83.8" y="175.9" width="1.6" height="1.6" fill="#ff8a20"/><rect x="83.4" y="175.2" width="1.4" height="1.4" fill="#e83a10"/><rect x="81.5" y="175.3" width="1.5" height="1.5" fill="#ffc830"/><rect x="82.2" y="176.6" width="1.5" height="1.5" fill="#ffc830"/><ellipse cx="104.0" cy="145.6" rx="3.0" ry="3.0" fill="#f4f0f4" opacity="0.1"/><rect x="102.9" y="144.8" width="1.7" height="1.7" fill="#f0c830"/><rect x="104.3" y="145.2" width="1.1" height="1.1" fill="#ffe050"/><rect x="103.7" y="144.5" width="1.2" height="1.2" fill="#ffc020"/><rect x="102.9" y="144.0" width="1.1" height="1.1" fill="#f0c830"/><rect x="103.4" y="144.6" width="1.3" height="1.3" fill="#f0c830"/><rect x="103.4" y="144.9" width="1.0" height="1.0" fill="#ffd22a"/><ellipse cx="169.2" cy="128.5" rx="4.2" ry="3.5" fill="#f4f0f4" opacity="0.25"/><rect x="167.2" y="128.2" width="1.2" height="1.2" fill="#e83a10"/><rect x="167.8" y="128.6" width="1.0" height="1.0" fill="#ff7a10"/><rect x="168.8" y="128.5" width="1.3" height="1.3" fill="#ff8a20"/><rect x="167.8" y="129.2" width="1.2" height="1.2" fill="#ff9a1a"/><rect x="167.6" y="127.7" width="1.3" height="1.3" fill="#e83a10"/><rect x="168.0" y="129.3" width="1.6" height="1.6" fill="#ff9a1a"/><rect x="169.8" y="126.9" width="1.3" height="1.3" fill="#ff7a10"/><rect x="168.2" y="128.0" width="1.0" height="1.0" fill="#ff9a1a"/><rect x="168.6" y="125.3" width="1.0" height="1.0" fill="#ff7a10"/><rect x="171.9" y="127.3" width="1.4" height="1.4" fill="#f05a10"/><rect x="168.6" y="128.8" width="1.4" height="1.4" fill="#ff5010"/><rect x="166.4" y="127.1" width="1.4" height="1.4" fill="#ffb020"/><rect x="167.6" y="128.1" width="1.1" height="1.1" fill="#ff7a10"/><rect x="169.0" y="125.1" width="1.7" height="1.7" fill="#ffb020"/><rect x="167.3" y="128.4" width="1.3" height="1.3" fill="#f05a10"/><rect x="167.3" y="127.8" width="1.4" height="1.4" fill="#ffb020"/><ellipse cx="171.2" cy="147.8" rx="4.2" ry="3.1" fill="#f4f0f4" opacity="0.15"/><rect x="170.8" y="147.3" width="1.3" height="1.3" fill="#60b0ff"/><rect x="171.9" y="148.4" width="1.4" height="1.4" fill="#60b0ff"/><rect x="167.0" y="147.4" width="1.5" height="1.5" fill="#4aa0f8"/><rect x="168.8" y="147.6" width="1.6" height="1.6" fill="#60b0ff"/><rect x="169.7" y="147.1" width="1.5" height="1.5" fill="#4aa0f8"/><rect x="171.4" y="147.9" width="1.3" height="1.3" fill="#3a8cf0"/><rect x="170.5" y="148.3" width="1.3" height="1.3" fill="#4aa0f8"/><rect x="183.6" y="151.9" width="1.2" height="1.2" fill="#ffc020"/><rect x="180.7" y="152.3" width="1.5" height="1.5" fill="#ffe050"/><rect x="183.6" y="152.8" width="1.3" height="1.3" fill="#ffc020"/><rect x="181.6" y="152.1" width="1.4" height="1.4" fill="#f0c830"/><rect x="32.8" y="65.2" width="1.4" height="1.4" fill="#f0c830"/><rect x="79.1" y="65.2" width="1.4" height="1.4" fill="#ffb020"/><rect x="86.8" y="40.3" width="1.4" height="1.4" fill="#f0c830"/><rect x="57.7" y="88.1" width="1.4" height="1.4" fill="#ffd22a"/><rect x="59.8" y="92.3" width="1.4" height="1.4" fill="#ffd22a"/><rect x="58.8" y="98.3" width="1.4" height="1.4" fill="#f0c830"/><rect x="59.8" y="155.3" width="1.4" height="1.4" fill="#f05a10"/><rect x="48.3" y="159.3" width="1.4" height="1.4" fill="#e8c428"/><rect x="51.3" y="156.3" width="1.4" height="1.4" fill="#ffd22a"/><rect x="136.3" y="178.3" width="1.4" height="1.4" fill="#2a70e0"/><rect x="196.6" y="113.8" width="1.4" height="1.4" fill="#2a70e0"/><rect x="81.7" y="109.3" width="1.4" height="1.4" fill="#ffe050"/><rect x="86.3" y="117.1" width="1.4" height="1.4" fill="#e8c428"/><rect x="109.3" y="171.3" width="1.4" height="1.4" fill="#e8c428"/><rect x="114.3" y="159.3" width="1.4" height="1.4" fill="#ffc020"/><rect x="29.3" y="99.3" width="1.4" height="1.4" fill="#ffe050"/><rect x="44.3" y="87.3" width="1.4" height="1.4" fill="#ffc830"/><rect x="69.3" y="39.3" width="1.4" height="1.4" fill="#ffc020"/><rect x="99.3" y="21.3" width="1.4" height="1.4" fill="#ffd22a"/><rect x="184.3" y="39.3" width="1.4" height="1.4" fill="#2a70e0"/><rect x="189.3" y="74.3" width="1.4" height="1.4" fill="#f0c830"/><rect x="154.3" y="149.3" width="1.4" height="1.4" fill="#4aa0f8"/><rect x="149.3" y="159.3" width="1.4" height="1.4" fill="#ffe050"/><rect x="119.3" y="149.3" width="1.4" height="1.4" fill="#f0c830"/><rect x="74.3" y="129.3" width="1.4" height="1.4" fill="#3a8cf0"/><rect x="99.3" y="59.3" width="1.4" height="1.4" fill="#e8c428"/><rect x="129.3" y="39.3" width="1.4" height="1.4" fill="#ffe050"/><rect x="29.3" y="139.3" width="1.4" height="1.4" fill="#ffe050"/><rect x="25.3" y="169.3" width="1.4" height="1.4" fill="#ffb020"/><rect x="140.0" y="79.4" width="1" height="1" fill="#60b0ff" opacity="0.7"/><rect x="52.9" y="127.1" width="1" height="1" fill="#ffd040" opacity="0.7"/><rect x="52.5" y="23.0" width="1" height="1" fill="#60b0ff" opacity="0.7"/><rect x="161.7" y="173.6" width="1" height="1" fill="#60b0ff" opacity="0.7"/><rect x="34.1" y="153.8" width="1" height="1" fill="#f0c830" opacity="0.7"/><rect x="164.5" y="160.7" width="1" height="1" fill="#ffe050" opacity="0.7"/><rect x="25.7" y="44.2" width="1" height="1" fill="#e8c428" opacity="0.7"/><rect x="144.9" y="60.5" width="1" height="1" fill="#ffd22a" opacity="0.7"/><rect x="184.0" y="111.8" width="1" height="1" fill="#ff8a20" opacity="0.7"/><rect x="119.6" y="102.6" width="1" height="1" fill="#ff8a20" opacity="0.7"/><rect x="40.4" y="165.8" width="1" height="1" fill="#ffc020" opacity="0.7"/><rect x="134.9" y="137.1" width="1" height="1" fill="#ffb020" opacity="0.7"/><rect x="58.1" y="130.8" width="1" height="1" fill="#e8c428" opacity="0.7"/><rect x="47.5" y="122.3" width="1" height="1" fill="#4aa0f8" opacity="0.7"/><rect x="170.4" y="111.9" width="1" height="1" fill="#ffd22a" opacity="0.7"/><rect x="29.7" y="53.6" width="1" height="1" fill="#ffe050" opacity="0.7"/><rect x="89.7" y="38.8" width="1" height="1" fill="#f0c830" opacity="0.7"/><rect x="171.5" y="136.5" width="1" height="1" fill="#ffd22a" opacity="0.7"/><rect x="43.8" y="33.4" width="1" height="1" fill="#ffd22a" opacity="0.7"/><rect x="149.4" y="109.1" width="1" height="1" fill="#ffe050" opacity="0.7"/><rect x="167.5" y="27.4" width="1" height="1" fill="#ff7a10" opacity="0.7"/><rect x="31.9" y="108.2" width="1" height="1" fill="#ffc020" opacity="0.7"/><rect x="86.6" y="152.7" width="1" height="1" fill="#2a70e0" opacity="0.7"/><rect x="113.8" y="66.3" width="1" height="1" fill="#e8c428" opacity="0.7"/><rect x="44.6" y="123.6" width="1" height="1" fill="#e8c428" opacity="0.7"/><rect x="107.8" y="59.8" width="1" height="1" fill="#2a70e0" opacity="0.7"/><rect x="150.7" y="174.9" width="1" height="1" fill="#4aa0f8" opacity="0.7"/><rect x="47.3" y="141.1" width="1" height="1" fill="#3a8cf0" opacity="0.7"/><rect x="134.3" y="103.5" width="1" height="1" fill="#e8c428" opacity="0.7"/><rect x="31.5" y="99.7" width="1" height="1" fill="#ffc020" opacity="0.7"/><rect x="47.6" y="149.9" width="1" height="1" fill="#ffd22a" opacity="0.7"/><rect x="45.0" y="131.6" width="1" height="1" fill="#ffc020" opacity="0.7"/><rect x="67.6" y="136.9" width="1" height="1" fill="#ffc020" opacity="0.7"/><rect x="182.9" y="28.8" width="1" height="1" fill="#f0c830" opacity="0.7"/><rect x="91.8" y="49.6" width="1" height="1" fill="#ffc020" opacity="0.7"/><rect x="87.0" y="126.5" width="1" height="1" fill="#ffc020" opacity="0.7"/><rect x="181.3" y="130.9" width="1" height="1" fill="#f0c830" opacity="0.7"/><rect x="41.3" y="41.2" width="1" height="1" fill="#ffe050" opacity="0.7"/><rect x="96.0" y="136.1" width="1" height="1" fill="#ffd22a" opacity="0.7"/><rect x="60.2" y="143.5" width="1" height="1" fill="#2a70e0" opacity="0.7"/><rect x="176.2" y="85.9" width="1" height="1" fill="#ffe050" opacity="0.7"/><rect x="109.3" y="27.5" width="1" height="1" fill="#ff7a10" opacity="0.7"/><rect x="180.7" y="168.7" width="1" height="1" fill="#4aa0f8" opacity="0.7"/><rect x="118.4" y="158.5" width="1" height="1" fill="#ffe050" opacity="0.7"/><rect x="175.8" y="176.7" width="1" height="1" fill="#60b0ff" opacity="0.7"/><rect x="99.4" y="173.1" width="1" height="1" fill="#ffe050" opacity="0.7"/><rect x="127.0" y="64.2" width="1" height="1" fill="#ffd040" opacity="0.7"/><rect x="61.1" y="167.8" width="1" height="1" fill="#e8c428" opacity="0.7"/><rect x="154.5" y="167.9" width="1" height="1" fill="#ffd22a" opacity="0.7"/><rect x="27.3" y="45.6" width="1" height="1" fill="#e8c428" opacity="0.7"/><rect x="82.9" y="82.1" width="1" height="1" fill="#e8c428" opacity="0.7"/><rect x="168.5" y="122.4" width="1" height="1" fill="#60b0ff" opacity="0.7"/><rect x="159.2" y="87.5" width="1" height="1" fill="#ffd22a" opacity="0.7"/><rect x="133.7" y="127.1" width="1" height="1" fill="#ffd22a" opacity="0.7"/><rect x="49.4" y="148.2" width="1" height="1" fill="#ffd22a" opacity="0.7"/><rect x="174.7" y="35.4" width="1" height="1" fill="#2a70e0" opacity="0.7"/><rect x="141.5" y="151.2" width="1" height="1" fill="#ffb020" opacity="0.7"/><rect x="25.2" y="138.1" width="1" height="1" fill="#ff8a20" opacity="0.7"/><rect x="43.6" y="36.5" width="1" height="1" fill="#e8c428" opacity="0.7"/><rect x="127.6" y="124.8" width="1" height="1" fill="#ffc020" opacity="0.7"/></g></g><g><polygon points="262,33 266,31.5 270,32 273,34 275.5,36 275,39 272,40.5 269,39.5 266,41 263,39 262.5,36" fill="#f42a10"/><polygon points="279.8,65.0 278.9,67.1 277.2,67.7 275.1,67.5 275.1,65.0 275.4,62.8 277.2,61.4 278.7,63.2" fill="#1a30e0"/><polygon points="286,57.6 290.2,57.8 288.3,60.7" fill="#2a70ff"/><polygon points="295.4,67.0 294.9,68.5 293.3,68.6 291.9,68.3 291.0,67.0 291.8,65.6 293.3,64.8 294.6,65.8" fill="#40e8c0"/><polygon points="308.6,72.6 307.9,74.2 306.3,75.2 304.1,74.8 303.6,72.6 304.3,70.6 306.3,70.1 308.3,70.6" fill="#48e8c8"/><polygon points="249.2,67.0 248.8,68.2 247.5,68.9 246.0,68.4 245.6,67.0 246.3,65.9 247.5,65.4 248.8,65.9" fill="#ffa020"/><polygon points="271.2,70.0 271.0,70.9 269.4,71.0 267.8,70.9 267.1,70.0 268.2,69.4 269.4,69.0 270.8,69.2" fill="#ff8c20"/><polygon points="277.2,96.5 276.9,98.6 275.1,100.0 273.5,98.3 272.4,96.5 273.5,94.7 275.1,93.4 277.2,94.0" fill="#30a0ff"/><polygon points="276.5,100.5 276.0,101.4 275.1,101.8 274.0,101.6 273.8,100.5 274.2,99.6 275.1,98.9 276.4,99.2" fill="#40f0f0"/><polygon points="310,91 314,93 313,99 310,106 306,112 301.5,114 299.5,111 302,105 305,99 307,94" fill="#1a8cff"/><polygon points="341.7,66.0 340.4,68.8 337.6,70.4 335.1,68.5 333.3,66.0 335.0,63.4 337.6,61.6 341.1,62.5" fill="#20e0f0"/><polygon points="360.5,53.5 365,54.5 365.7,59 362,63 359,66.5 355,67 354.2,64 356.5,61 359,58" fill="#a8e838"/><polygon points="376,64 380,61.5 385,62 388,60.7 391.6,62.5 390.5,66 386,67.5 387,71 383,72.2 380,69 377,68" fill="#ff6a10"/><polygon points="390.6,62.8 390.4,64.2 388.5,64.9 386.9,64.0 386.1,62.8 386.3,61.1 388.5,60.4 390.1,61.6" fill="#ff9a30"/><polygon points="332.6,88.3 332.0,90.5 329.8,90.6 327.9,90.2 327.7,88.3 328.1,86.6 329.8,85.5 331.7,86.4" fill="#ffe020"/><polygon points="345,89 352,88.5 358,90 364,89.5 366,93 364,99 362.5,104 358,108 352,112 346,116 341,119.5 336,121.8 335.5,119 340,114 343,108 341,103 340,97 342,92" fill="#ffc000"/><polygon points="343.0,102.5 341.9,103.4 340.7,103.9 339.0,103.7 338.5,102.5 339.2,101.5 340.7,101.1 342.5,101.2" fill="#1a30ff"/><polygon points="384.5,128.5 382.8,130.0 380.7,131.4 378.3,130.2 377.1,128.5 378.4,126.9 380.7,126.0 383.1,126.8" fill="#70e878"/><polygon points="411.8,115.5 411.6,117.1 410.3,117.3 408.9,117.2 408.8,115.5 408.9,113.8 410.3,113.1 411.6,114.0" fill="#60e040"/><polygon points="396.9,153.7 396.0,154.8 394.7,155.6 393.3,154.9 392.9,153.7 393.0,152.3 394.7,152.1 396.0,152.6" fill="#40e0f0"/><polygon points="346,176 350,176.5 353.2,175.8 352,179 349,180" fill="#1a20ee"/><polygon points="255.0,120.7 254.0,122.0 252.7,122.8 251.5,121.9 250.4,120.7 251.4,119.4 252.7,119.1 254.4,119.0" fill="#40c8f0"/><polygon points="258.7,118.6 258.7,119.5 257.0,119.9 255.5,119.4 255.4,118.6 255.8,118.0 257.0,117.6 258.4,117.9" fill="#ff5a20"/><polygon points="258,133 261,131.1 263,133 266,131.5 268.3,134 266,137 262,137.4 259,136" fill="#e01010"/><polygon points="257,139 261,138.4 264.2,140 263,142.6 259,142" fill="#ffd000"/><polygon points="267.3,155.5 267.1,156.8 266.2,156.9 265.5,156.4 265.1,155.5 265.5,154.6 266.2,154.2 267.0,154.4" fill="#e8f020"/><polygon points="276.9,155.6 275.8,157.1 274.6,158.1 273.0,157.6 272.3,155.6 273.2,153.8 274.6,152.6 275.9,154.0" fill="#1a40ff"/><polygon points="265.4,160.7 264.7,161.9 263.1,162.4 261.6,161.8 261.3,160.7 261.9,159.8 263.1,159.2 264.4,159.8" fill="#1a50ff"/><polygon points="274.7,161.2 274.1,161.8 273.5,162.4 272.8,161.9 272.6,161.2 272.8,160.5 273.5,160.1 274.3,160.4" fill="#d0f040"/><polygon points="279.3,166.0 278.6,167.5 277.2,168.4 275.4,168.0 275.0,166.0 275.4,164.0 277.2,164.1 279.1,164.0" fill="#1a60ff"/><polygon points="283.1,171.1 282.5,172.3 281.3,172.7 280.2,172.2 279.4,171.1 280.4,170.2 281.3,169.4 282.5,169.9" fill="#60e090"/><polygon points="299.3,176.4 298.8,178.4 296.4,179.2 294.6,177.9 293.1,176.4 294.2,174.6 296.4,173.8 298.7,174.5" fill="#ee1010"/><polygon points="288.6,184.6 288.5,185.7 287.0,186.0 285.4,185.8 285.2,184.6 285.4,183.4 287.0,183.0 288.5,183.5" fill="#ee1010"/><polygon points="319.8,145.2 318.0,146.7 316.2,147.9 313.9,147.1 312.9,145.2 314.1,143.4 316.2,143.0 318.1,143.6" fill="#40c8f0"/><circle cx="271.5" cy="26.4" r="1.18" fill="#111"/><circle cx="285.0" cy="25.4" r="1.05" fill="#111"/><circle cx="301.6" cy="42.0" r="1.02" fill="#111"/><circle cx="270.4" cy="48.3" r="1.11" fill="#111"/><circle cx="277.7" cy="54.5" r="1.14" fill="#111"/><circle cx="258.0" cy="57.6" r="1.16" fill="#111"/><circle cx="275.6" cy="60.7" r="1.01" fill="#111"/><circle cx="237.2" cy="66.0" r="1.23" fill="#111"/><circle cx="271.5" cy="74.3" r="1.10" fill="#111"/><circle cx="251.7" cy="78.4" r="1.23" fill="#111"/><circle cx="238.2" cy="88.8" r="1.00" fill="#111"/><circle cx="273.5" cy="88.8" r="1.29" fill="#111"/><circle cx="312.0" cy="82.6" r="1.18" fill="#111"/><circle cx="315.1" cy="81.5" r="1.29" fill="#111"/><circle cx="317.2" cy="84.6" r="1.30" fill="#111"/><circle cx="316.2" cy="54.5" r="1.25" fill="#111"/><circle cx="283.0" cy="20.0" r="1.03" fill="#111"/><circle cx="281.0" cy="21.0" r="1.10" fill="#111"/><circle cx="279.0" cy="20.5" r="1.07" fill="#111"/><circle cx="299.0" cy="19.5" r="1.23" fill="#111"/><circle cx="271.0" cy="40.0" r="1.06" fill="#111"/><circle cx="325.1" cy="23.3" r="1.07" fill="#111"/><circle cx="379.2" cy="42.0" r="1.03" fill="#111"/><circle cx="402.0" cy="50.3" r="1.04" fill="#111"/><circle cx="353.2" cy="60.7" r="1.28" fill="#111"/><circle cx="353.2" cy="63.9" r="1.29" fill="#111"/><circle cx="375.0" cy="66.0" r="1.11" fill="#111"/><circle cx="376.0" cy="70.1" r="1.22" fill="#111"/><circle cx="383.3" cy="71.1" r="1.14" fill="#111"/><circle cx="364.6" cy="75.3" r="1.16" fill="#111"/><circle cx="402.0" cy="76.3" r="1.11" fill="#111"/><circle cx="331.4" cy="83.6" r="1.19" fill="#111"/><circle cx="332.4" cy="84.6" r="1.07" fill="#111"/><circle cx="324.0" cy="87.8" r="1.08" fill="#111"/><circle cx="337.6" cy="88.8" r="1.16" fill="#111"/><circle cx="339.7" cy="88.8" r="1.06" fill="#111"/><circle cx="370.9" cy="89.8" r="1.13" fill="#111"/><circle cx="374.0" cy="90.9" r="1.28" fill="#111"/><circle cx="395.8" cy="89.8" r="1.01" fill="#111"/><circle cx="358.4" cy="94.0" r="1.03" fill="#111"/><circle cx="338.6" cy="96.0" r="1.24" fill="#111"/><circle cx="249.6" cy="106.2" r="1.02" fill="#111"/><circle cx="255.9" cy="110.4" r="1.08" fill="#111"/><circle cx="262.1" cy="111.4" r="1.26" fill="#111"/><circle cx="273.5" cy="102.0" r="1.18" fill="#111"/><circle cx="281.9" cy="105.2" r="1.07" fill="#111"/><circle cx="288.1" cy="104.1" r="1.02" fill="#111"/><circle cx="289.1" cy="107.2" r="1.08" fill="#111"/><circle cx="295.4" cy="110.4" r="1.09" fill="#111"/><circle cx="299.5" cy="117.6" r="1.24" fill="#111"/><circle cx="276.7" cy="121.8" r="1.29" fill="#111"/><circle cx="288.1" cy="118.7" r="1.24" fill="#111"/><circle cx="286.0" cy="127.0" r="1.27" fill="#111"/><circle cx="295.4" cy="127.0" r="1.28" fill="#111"/><circle cx="245.5" cy="127.0" r="1.26" fill="#111"/><circle cx="247.6" cy="128.0" r="1.28" fill="#111"/><circle cx="249.6" cy="127.6" r="1.29" fill="#111"/><circle cx="265.2" cy="139.5" r="1.03" fill="#111"/><circle cx="267.3" cy="142.6" r="1.10" fill="#111"/><circle cx="268.3" cy="143.6" r="1.07" fill="#111"/><circle cx="253.8" cy="145.7" r="1.18" fill="#111"/><circle cx="255.9" cy="148.8" r="1.15" fill="#111"/><circle cx="260.0" cy="147.8" r="1.10" fill="#111"/><circle cx="251.7" cy="144.7" r="1.25" fill="#111"/><circle cx="267.3" cy="147.8" r="1.12" fill="#111"/><circle cx="285.0" cy="156.1" r="1.06" fill="#111"/><circle cx="296.4" cy="154.0" r="1.08" fill="#111"/><circle cx="303.7" cy="150.9" r="1.14" fill="#111"/><circle cx="305.8" cy="141.5" r="1.18" fill="#111"/><circle cx="312.0" cy="151.9" r="1.17" fill="#111"/><circle cx="271.5" cy="173.8" r="1.13" fill="#111"/><circle cx="277.7" cy="172.7" r="1.06" fill="#111"/><circle cx="288.1" cy="169.6" r="1.12" fill="#111"/><circle cx="290.2" cy="170.6" r="1.10" fill="#111"/><circle cx="276.7" cy="174.8" r="1.05" fill="#111"/><circle cx="272.5" cy="138.4" r="1.16" fill="#111"/><circle cx="258.0" cy="145.7" r="1.06" fill="#111"/><circle cx="300.6" cy="118.7" r="1.21" fill="#111"/><circle cx="280.8" cy="154.0" r="1.20" fill="#111"/><circle cx="342.8" cy="105.2" r="1.04" fill="#111"/><circle cx="342.8" cy="114.5" r="1.19" fill="#111"/><circle cx="374.0" cy="112.4" r="1.10" fill="#111"/><circle cx="377.1" cy="117.6" r="1.13" fill="#111"/><circle cx="372.9" cy="141.5" r="1.18" fill="#111"/><circle cx="381.3" cy="145.7" r="1.23" fill="#111"/><circle cx="383.3" cy="147.8" r="1.27" fill="#111"/><circle cx="385.4" cy="148.8" r="1.22" fill="#111"/><circle cx="380.2" cy="149.9" r="1.06" fill="#111"/><circle cx="384.4" cy="150.9" r="1.16" fill="#111"/><circle cx="401.0" cy="144.7" r="1.10" fill="#111"/><circle cx="402.0" cy="151.9" r="1.01" fill="#111"/><circle cx="400.0" cy="154.0" r="1.17" fill="#111"/><circle cx="403.1" cy="156.1" r="1.14" fill="#111"/><circle cx="330.3" cy="145.7" r="1.26" fill="#111"/><circle cx="324.1" cy="150.9" r="1.10" fill="#111"/><circle cx="336.6" cy="150.9" r="1.25" fill="#111"/><circle cx="332.4" cy="157.1" r="1.15" fill="#111"/><circle cx="325.1" cy="157.1" r="1.03" fill="#111"/><circle cx="331.4" cy="163.4" r="1.22" fill="#111"/><circle cx="333.4" cy="163.4" r="1.09" fill="#111"/><circle cx="324.1" cy="169.6" r="1.16" fill="#111"/><circle cx="333.4" cy="177.9" r="1.02" fill="#111"/><circle cx="356.3" cy="181.0" r="1.00" fill="#111"/><circle cx="360.5" cy="185.2" r="1.28" fill="#111"/><circle cx="355.3" cy="186.2" r="1.01" fill="#111"/><circle cx="387.5" cy="168.6" r="1.04" fill="#111"/><circle cx="244.0" cy="96.0" r="1.05" fill="#111"/><circle cx="240.0" cy="112.0" r="1.03" fill="#111"/><circle cx="246.0" cy="140.0" r="1.25" fill="#111"/><circle cx="250.0" cy="160.0" r="1.30" fill="#111"/><circle cx="300.0" cy="60.0" r="1.19" fill="#111"/><circle cx="318.0" cy="30.0" r="1.12" fill="#111"/><circle cx="345.0" cy="40.0" r="1.27" fill="#111"/><circle cx="405.0" cy="100.0" r="1.15" fill="#111"/><circle cx="360.0" cy="140.0" r="1.04" fill="#111"/><circle cx="320.0" cy="125.0" r="1.21" fill="#111"/><circle cx="350.0" cy="160.0" r="1.11" fill="#111"/><circle cx="300.0" cy="185.0" r="1.08" fill="#111"/><circle cx="240.0" cy="180.0" r="1.10" fill="#111"/><circle cx="405.0" cy="178.0" r="1.12" fill="#111"/></g><g><polygon points="93.9,274.8 97.6,275.7 96.6,280.3 94.8,285.9 92,291.4 88.3,293.3 87.4,290.5 90.2,285.9 92.6,280.3" fill="#ff0000" stroke="#900" stroke-width="0.3"/><polygon points="129.9,271.1 135.4,270.2 142.8,273.9 152.1,277.6 151.1,282.2 146.5,287.7 139.1,291.4 135.4,295.1 133.6,297 128,299.7 124.3,301.6 123.4,300.3 129.9,297 132.7,293.3 133.6,287.7 132.7,282.2 130.8,276.6" fill="#ff0000" stroke="#900" stroke-width="0.3"/><polygon points="50.2,211.1 52,210.2 55.7,212.9 59.4,216.3 58.5,217.6 53.9,217 50.2,214.8" fill="#ff0000" stroke="#900" stroke-width="0.3"/><polygon points="61.8,241 63.6,241.6 64.4,244.3 62.5,245.8 61.2,244.3" fill="#ff0000" stroke="#900" stroke-width="0.3"/><polygon points="149.7,234.2 152.9,233.3 153.4,237.9 151.6,241.6 147.9,243.5 144.7,244.4 143.3,242.6 146,240.7 148.8,238.9" fill="#ff0000" stroke="#900" stroke-width="0.3"/><polygon points="121.1,243.5 124.8,242 127.6,242.9 127,246.2 124.8,247.7 122,246.8" fill="#ff0000" stroke="#900" stroke-width="0.3"/><polygon points="171,243.5 173.7,244.4 176.1,247.2 174.7,248.1 171.9,246.2" fill="#ff0000" stroke="#900" stroke-width="0.3"/><polygon points="176.1,241.6 179.3,242.2 178.7,243.5 176.5,243.1" fill="#ff0000" stroke="#900" stroke-width="0.3"/><polygon points="44,313 46.5,313.5 46.8,318.5 44.5,318" fill="#ff0000" stroke="#900" stroke-width="0.3"/><polygon points="48.6,317.5 53,315.7 53.3,316.8 49,318.5" fill="#ff0000" stroke="#900" stroke-width="0.3"/><polygon points="58.8,336 60.6,336.5 60.2,339.7 58.8,339.2" fill="#ff0000" stroke="#900" stroke-width="0.3"/><polygon points="81,358 83.5,357.3 84.7,360 82.5,361.2 81,360.3" fill="#ff0000" stroke="#900" stroke-width="0.3"/><polygon points="167.5,308 171.7,308.5 171.3,310.5 167.8,310.2" fill="#ff0000" stroke="#900" stroke-width="0.3"/><polygon points="101,326 104.5,326.3 105,328 101.5,328.2" fill="#ff0000" stroke="#900" stroke-width="0.3"/><ellipse cx="127.1" cy="281.2" rx="1.2" ry="0.8" fill="#6a0a0a"/><ellipse cx="117" cy="268.3" rx="1.2" ry="0.8" fill="#6a0a0a"/><ellipse cx="73.8" cy="237.9" rx="1.2" ry="0.8" fill="#6a0a0a"/><ellipse cx="78.8" cy="245.8" rx="1.2" ry="0.8" fill="#6a0a0a"/><ellipse cx="167.3" cy="244.4" rx="1.2" ry="0.8" fill="#6a0a0a"/><ellipse cx="117" cy="268.4" rx="1.2" ry="0.8" fill="#6a0a0a"/><ellipse cx="45.5" cy="323" rx="1.2" ry="0.8" fill="#6a0a0a"/><ellipse cx="47.7" cy="342.5" rx="1.2" ry="0.8" fill="#6a0a0a"/><ellipse cx="62.9" cy="348.5" rx="1.2" ry="0.8" fill="#6a0a0a"/><ellipse cx="66.2" cy="353.6" rx="1.2" ry="0.8" fill="#6a0a0a"/><ellipse cx="38.5" cy="301" rx="1.2" ry="0.8" fill="#6a0a0a"/><ellipse cx="73.6" cy="367.4" rx="1.2" ry="0.8" fill="#6a0a0a"/><ellipse cx="30" cy="244" rx="1.2" ry="0.8" fill="#6a0a0a"/><ellipse cx="62" cy="262" rx="1.2" ry="0.8" fill="#6a0a0a"/><ellipse cx="46" cy="287" rx="1.2" ry="0.8" fill="#6a0a0a"/><ellipse cx="182.8" cy="335.6" rx="1.2" ry="0.8" fill="#6a0a0a"/><ellipse cx="137" cy="361" rx="1.2" ry="0.8" fill="#6a0a0a"/><circle cx="84.7" cy="338.6" r="6.5" fill="#fff" opacity="0.6"/><circle cx="84.7" cy="338.6" r="3.2" fill="#0a14ff"/></g>
<rect x="100.7" y="23.5" width="83.8" height="1.9" fill="#f4f4f4"/>
<rect x="100.7" y="23.5" width="16.7" height="1.9" fill="#000"/><rect x="134.5" y="23.5" width="16.5" height="1.9" fill="#000"/><rect x="167.5" y="23.5" width="17" height="1.9" fill="#000"/>
<text x="100.6" y="31.8" font-size="5.8" text-anchor="middle">0</text><text x="183.6" y="31.8" font-size="5.8" text-anchor="middle">10km</text>
<text x="22.0" y="12.2" font-size="6.9" text-anchor="middle" textLength="9.2" lengthAdjust="spacingAndGlyphs">6.7°</text><text x="66.4" y="12.2" font-size="6.9" text-anchor="middle" textLength="13.7" lengthAdjust="spacingAndGlyphs">6.75°</text><text x="110.8" y="12.2" font-size="6.9" text-anchor="middle" textLength="9.2" lengthAdjust="spacingAndGlyphs">6.8°</text><text x="155.1" y="12.2" font-size="6.9" text-anchor="middle" textLength="13.7" lengthAdjust="spacingAndGlyphs">6.85°</text><text x="199.5" y="12.2" font-size="6.9" text-anchor="middle" textLength="9.2" lengthAdjust="spacingAndGlyphs">6.9°</text>
<text x="234.3" y="12.2" font-size="6.9" text-anchor="middle" textLength="9.2" lengthAdjust="spacingAndGlyphs">6.7°</text><text x="278.6" y="12.2" font-size="6.9" text-anchor="middle" textLength="13.7" lengthAdjust="spacingAndGlyphs">6.75°</text><text x="322.9" y="12.2" font-size="6.9" text-anchor="middle" textLength="9.2" lengthAdjust="spacingAndGlyphs">6.8°</text><text x="367.1" y="12.2" font-size="6.9" text-anchor="middle" textLength="13.7" lengthAdjust="spacingAndGlyphs">6.85°</text><text x="411.4" y="12.2" font-size="6.9" text-anchor="middle" textLength="9.2" lengthAdjust="spacingAndGlyphs">6.9°</text>
<text x="22.2" y="377.6" font-size="6.9" text-anchor="middle" textLength="9.2" lengthAdjust="spacingAndGlyphs">6.7°</text><text x="66.5" y="377.6" font-size="6.9" text-anchor="middle" textLength="13.7" lengthAdjust="spacingAndGlyphs">6.75°</text><text x="110.9" y="377.6" font-size="6.9" text-anchor="middle" textLength="9.2" lengthAdjust="spacingAndGlyphs">6.8°</text><text x="155.2" y="377.6" font-size="6.9" text-anchor="middle" textLength="13.7" lengthAdjust="spacingAndGlyphs">6.85°</text><text x="199.6" y="377.6" font-size="6.9" text-anchor="middle" textLength="9.2" lengthAdjust="spacingAndGlyphs">6.9°</text>
<text x="19.6" y="68.4" font-size="6.9" text-anchor="end" textLength="13.6" lengthAdjust="spacingAndGlyphs">44.2°</text><text x="19.6" y="129.6" font-size="6.9" text-anchor="end" textLength="15.8" lengthAdjust="spacingAndGlyphs">44.15°</text><text x="19.6" y="190.7" font-size="6.9" text-anchor="end" textLength="13.6" lengthAdjust="spacingAndGlyphs">44.1°</text>
<text x="19.6" y="248.7" font-size="6.9" text-anchor="end" textLength="13.6" lengthAdjust="spacingAndGlyphs">44.2°</text><text x="19.6" y="309.9" font-size="6.9" text-anchor="end" textLength="15.8" lengthAdjust="spacingAndGlyphs">44.15°</text><text x="19.6" y="371.0" font-size="6.9" text-anchor="end" textLength="13.6" lengthAdjust="spacingAndGlyphs">44.1°</text>
<text x="414.3" y="69.0" font-size="6.9" text-anchor="start" textLength="13.6" lengthAdjust="spacingAndGlyphs">44.2°</text><text x="414.3" y="130.4" font-size="6.9" text-anchor="start" textLength="15.8" lengthAdjust="spacingAndGlyphs">44.15°</text><text x="414.3" y="191.4" font-size="6.9" text-anchor="start" textLength="13.6" lengthAdjust="spacingAndGlyphs">44.1°</text>
<circle cx="31.3" cy="25.2" r="6.6" fill="#000"/><text x="31.3" y="29.099999999999998" font-size="12.5" text-anchor="middle" style="fill:#fff;stroke:none">a</text><circle cx="244.2" cy="25.4" r="6.6" fill="#000"/><text x="244.2" y="29.299999999999997" font-size="12.5" text-anchor="middle" style="fill:#fff;stroke:none">b</text><circle cx="32.8" cy="206.4" r="6.4" fill="#000"/><text x="32.8" y="210.3" font-size="12.5" text-anchor="middle" style="fill:#fff;stroke:none">c</text><circle cx="245" cy="206" r="6.2" fill="#000"/><text x="245" y="209.9" font-size="12.5" text-anchor="middle" style="fill:#fff;stroke:none">d</text><circle cx="33.4" cy="397.8" r="6.2" fill="#000"/><text x="33.4" y="401.7" font-size="12.5" text-anchor="middle" style="fill:#fff;stroke:none">e</text><circle cx="244" cy="397" r="6.3" fill="#000"/><text x="244" y="400.9" font-size="12.5" text-anchor="middle" style="fill:#fff;stroke:none">f</text>
<rect x="212.2" y="46.7" width="6.2" height="131" fill="url(#jetv)"/>
<line x1="209.2" y1="50" x2="209.2" y2="104" stroke="#14147a" stroke-width="1.25"/>
<path d="M209.2 46.8 L207.4 52.5 L211 52.5 Z" fill="#14147a"/>
<line x1="209.2" y1="104" x2="209.2" y2="173" stroke="#7a1414" stroke-width="1.25"/>
<path d="M209.2 177 L207.4 171.3 L211 171.3 Z" fill="#7a1414"/>
<text class="it" x="222.5" y="51.199999999999996" font-size="6.4">40</text>
<text class="it" x="222.5" y="66.0" font-size="6.4">30</text>
<text class="it" x="222.5" y="80.7" font-size="6.4">20</text>
<text class="it" x="222.5" y="95.2" font-size="6.4">10</text>
<text class="it" x="222.5" y="109.7" font-size="6.4">0</text>
<text class="it" x="221" y="125.2" font-size="6.4">- 10</text>
<text class="it" x="221" y="140.20000000000002" font-size="6.4">- 20</text>
<text class="it" x="221" y="155.0" font-size="6.4">- 30</text>
<text class="it" x="221" y="169.70000000000002" font-size="6.4">- 40</text>
<text class="it" x="205.5" y="40.2" font-size="10.5">V</text>
<text class="it" x="211.5" y="42.4" font-size="4.6" font-weight="bold">SLOPE</text>
<text class="it" transform="translate(205.6,87) rotate(-90)" font-size="5.6">toward satellite</text>
<text class="it" transform="translate(205.6,173) rotate(-90)" font-size="5.6">away from satellite</text>
<text class="it" transform="translate(213.2,104) rotate(90)" font-size="5.6" style="fill:#333">mm/yr</text>
<rect x="254.20" y="304.69" width="9.14" height="64.31" fill="#372f8f" stroke="#3c3a55" stroke-width="0.7"/><rect x="263.34" y="347.56" width="9.14" height="21.44" fill="#372f8f" stroke="#3c3a55" stroke-width="0.7"/><rect x="272.48" y="197.50" width="9.14" height="171.50" fill="#372f8f" stroke="#3c3a55" stroke-width="0.7"/><rect x="281.62" y="326.12" width="9.14" height="42.88" fill="#372f8f" stroke="#3c3a55" stroke-width="0.7"/><rect x="290.76" y="261.81" width="9.14" height="107.19" fill="#372f8f" stroke="#3c3a55" stroke-width="0.7"/><rect x="299.90" y="283.25" width="9.14" height="85.75" fill="#372f8f" stroke="#3c3a55" stroke-width="0.7"/><rect x="309.04" y="304.69" width="9.14" height="64.31" fill="#372f8f" stroke="#3c3a55" stroke-width="0.7"/><rect x="318.18" y="347.56" width="9.14" height="21.44" fill="#372f8f" stroke="#3c3a55" stroke-width="0.7"/><rect x="336.46" y="347.56" width="9.14" height="21.44" fill="#372f8f" stroke="#3c3a55" stroke-width="0.7"/><rect x="345.60" y="283.25" width="9.14" height="85.75" fill="#372f8f" stroke="#3c3a55" stroke-width="0.7"/><rect x="363.88" y="347.56" width="9.14" height="21.44" fill="#372f8f" stroke="#3c3a55" stroke-width="0.7"/><rect x="382.16" y="347.56" width="9.14" height="21.44" fill="#372f8f" stroke="#3c3a55" stroke-width="0.7"/><rect x="391.30" y="304.69" width="9.14" height="64.31" fill="#372f8f" stroke="#3c3a55" stroke-width="0.7"/>
<rect x="234.5" y="197.5" width="176.9" height="171.5" fill="none" stroke="#333" stroke-width="0.9"/>
<line x1="234.50" y1="369.0" x2="234.50" y2="367.2" stroke="#555" stroke-width="0.5"/><line x1="234.50" y1="197.5" x2="234.50" y2="199.3" stroke="#555" stroke-width="0.5"/><text x="234.50" y="377.6" font-size="6.6" text-anchor="middle" textLength="6.3" lengthAdjust="spacingAndGlyphs">10</text><line x1="256.61" y1="369.0" x2="256.61" y2="367.2" stroke="#555" stroke-width="0.5"/><line x1="256.61" y1="197.5" x2="256.61" y2="199.3" stroke="#555" stroke-width="0.5"/><text x="256.61" y="377.6" font-size="6.6" text-anchor="middle" textLength="6.3" lengthAdjust="spacingAndGlyphs">15</text><line x1="278.73" y1="369.0" x2="278.73" y2="367.2" stroke="#555" stroke-width="0.5"/><line x1="278.73" y1="197.5" x2="278.73" y2="199.3" stroke="#555" stroke-width="0.5"/><text x="278.73" y="377.6" font-size="6.6" text-anchor="middle" textLength="6.3" lengthAdjust="spacingAndGlyphs">20</text><line x1="300.84" y1="369.0" x2="300.84" y2="367.2" stroke="#555" stroke-width="0.5"/><line x1="300.84" y1="197.5" x2="300.84" y2="199.3" stroke="#555" stroke-width="0.5"/><text x="300.84" y="377.6" font-size="6.6" text-anchor="middle" textLength="6.3" lengthAdjust="spacingAndGlyphs">25</text><line x1="322.95" y1="369.0" x2="322.95" y2="367.2" stroke="#555" stroke-width="0.5"/><line x1="322.95" y1="197.5" x2="322.95" y2="199.3" stroke="#555" stroke-width="0.5"/><text x="322.95" y="377.6" font-size="6.6" text-anchor="middle" textLength="6.3" lengthAdjust="spacingAndGlyphs">30</text><line x1="345.06" y1="369.0" x2="345.06" y2="367.2" stroke="#555" stroke-width="0.5"/><line x1="345.06" y1="197.5" x2="345.06" y2="199.3" stroke="#555" stroke-width="0.5"/><text x="345.06" y="377.6" font-size="6.6" text-anchor="middle" textLength="6.3" lengthAdjust="spacingAndGlyphs">35</text><line x1="367.17" y1="369.0" x2="367.17" y2="367.2" stroke="#555" stroke-width="0.5"/><line x1="367.17" y1="197.5" x2="367.17" y2="199.3" stroke="#555" stroke-width="0.5"/><text x="367.17" y="377.6" font-size="6.6" text-anchor="middle" textLength="6.3" lengthAdjust="spacingAndGlyphs">40</text><line x1="389.29" y1="369.0" x2="389.29" y2="367.2" stroke="#555" stroke-width="0.5"/><line x1="389.29" y1="197.5" x2="389.29" y2="199.3" stroke="#555" stroke-width="0.5"/><text x="389.29" y="377.6" font-size="6.6" text-anchor="middle" textLength="6.3" lengthAdjust="spacingAndGlyphs">45</text><line x1="411.40" y1="369.0" x2="411.40" y2="367.2" stroke="#555" stroke-width="0.5"/><line x1="411.40" y1="197.5" x2="411.40" y2="199.3" stroke="#555" stroke-width="0.5"/><text x="411.40" y="377.6" font-size="6.6" text-anchor="middle" textLength="6.3" lengthAdjust="spacingAndGlyphs">50</text><line x1="234.5" y1="369.00" x2="236.3" y2="369.00" stroke="#555" stroke-width="0.5"/><line x1="411.4" y1="369.00" x2="409.59999999999997" y2="369.00" stroke="#555" stroke-width="0.5"/><text x="232.4" y="371.40" font-size="6.6" text-anchor="end">0</text><line x1="234.5" y1="347.56" x2="236.3" y2="347.56" stroke="#555" stroke-width="0.5"/><line x1="411.4" y1="347.56" x2="409.59999999999997" y2="347.56" stroke="#555" stroke-width="0.5"/><text x="232.4" y="349.96" font-size="6.6" text-anchor="end">1</text><line x1="234.5" y1="326.12" x2="236.3" y2="326.12" stroke="#555" stroke-width="0.5"/><line x1="411.4" y1="326.12" x2="409.59999999999997" y2="326.12" stroke="#555" stroke-width="0.5"/><text x="232.4" y="328.52" font-size="6.6" text-anchor="end">2</text><line x1="234.5" y1="304.69" x2="236.3" y2="304.69" stroke="#555" stroke-width="0.5"/><line x1="411.4" y1="304.69" x2="409.59999999999997" y2="304.69" stroke="#555" stroke-width="0.5"/><text x="232.4" y="307.09" font-size="6.6" text-anchor="end">3</text><line x1="234.5" y1="283.25" x2="236.3" y2="283.25" stroke="#555" stroke-width="0.5"/><line x1="411.4" y1="283.25" x2="409.59999999999997" y2="283.25" stroke="#555" stroke-width="0.5"/><text x="232.4" y="285.65" font-size="6.6" text-anchor="end">4</text><line x1="234.5" y1="261.81" x2="236.3" y2="261.81" stroke="#555" stroke-width="0.5"/><line x1="411.4" y1="261.81" x2="409.59999999999997" y2="261.81" stroke="#555" stroke-width="0.5"/><text x="232.4" y="264.21" font-size="6.6" text-anchor="end">5</text><line x1="234.5" y1="240.38" x2="236.3" y2="240.38" stroke="#555" stroke-width="0.5"/><line x1="411.4" y1="240.38" x2="409.59999999999997" y2="240.38" stroke="#555" stroke-width="0.5"/><text x="232.4" y="242.78" font-size="6.6" text-anchor="end">6</text><line x1="234.5" y1="218.94" x2="236.3" y2="218.94" stroke="#555" stroke-width="0.5"/><line x1="411.4" y1="218.94" x2="409.59999999999997" y2="218.94" stroke="#555" stroke-width="0.5"/><text x="232.4" y="221.34" font-size="6.6" text-anchor="end">7</text><line x1="234.5" y1="197.50" x2="236.3" y2="197.50" stroke="#555" stroke-width="0.5"/><line x1="411.4" y1="197.50" x2="409.59999999999997" y2="197.50" stroke="#555" stroke-width="0.5"/><text x="232.4" y="199.90" font-size="6.6" text-anchor="end">8</text>
<text class="it" transform="translate(224.6,280) rotate(-90)" font-size="7.4" text-anchor="middle">Frequency</text>
<text class="it" x="309.5" y="384.4" font-size="8.6">V</text>
<text class="it" x="313.5" y="386" font-size="4.4" font-weight="bold">SLOPE</text>
<text class="it" x="329" y="384" font-size="7">(mm/yr)</text>
<path d="M26.5 388.9 H24.5 V529.3 H26.5" fill="none" stroke="#999" stroke-width="0.7"/><path d="M200.2 388.9 H202.2 V529.3 H200.2" fill="none" stroke="#999" stroke-width="0.7"/>
<path d="M235.9 388.8 H233.9 V529.3 H235.9" fill="none" stroke="#999" stroke-width="0.7"/><path d="M409.3 388.8 H411.3 V529.3 H409.3" fill="none" stroke="#999" stroke-width="0.7"/>
<rect x="44.2" y="528.2" width="133" height="6.2" fill="url(#jeth)"/><line x1="47.2" y1="525.4" x2="110.2" y2="525.4" stroke="#7a1414" stroke-width="1.2"/><path d="M44.2 525.4 L49.7 523.6 L49.7 527.2 Z" fill="#7a1414"/><line x1="110.2" y1="525.4" x2="172.2" y2="525.4" stroke="#14147a" stroke-width="1.2"/><path d="M177.2 525.4 L171.7 523.6 L171.7 527.2 Z" fill="#14147a"/><text class="it" x="45.2" y="522" font-size="5.6">away from satellite</text><text class="it" x="176.2" y="522" font-size="5.6" text-anchor="end">toward satellite</text><text class="it" x="97.80000000000001" y="519.5" font-size="9">V</text><text class="it" x="103.7" y="521" font-size="4.4" font-weight="bold">SLOPE</text><text class="it" x="110.7" y="533.6" font-size="5.6" text-anchor="middle" style="fill:#333">mm/yr</text><text class="it" x="55.8" y="542.2" font-size="6.4" text-anchor="middle">-40</text><text class="it" x="69.2" y="542.2" font-size="6.4" text-anchor="middle">-30</text><text class="it" x="84.2" y="542.2" font-size="6.4" text-anchor="middle">-20</text><text class="it" x="99.2" y="542.2" font-size="6.4" text-anchor="middle">-10</text><text class="it" x="114.2" y="542.2" font-size="6.4" text-anchor="middle">0</text><text class="it" x="128.9" y="542.2" font-size="6.4" text-anchor="middle">10</text><text class="it" x="144.2" y="542.2" font-size="6.4" text-anchor="middle">20</text><text class="it" x="159.0" y="542.2" font-size="6.4" text-anchor="middle">30</text><text class="it" x="172.8" y="542.2" font-size="6.4" text-anchor="middle">40</text>
<rect x="263.1" y="528.2" width="133" height="6.2" fill="url(#jeth)"/><line x1="266.1" y1="525.4" x2="329.1" y2="525.4" stroke="#7a1414" stroke-width="1.2"/><path d="M263.1 525.4 L268.6 523.6 L268.6 527.2 Z" fill="#7a1414"/><line x1="329.1" y1="525.4" x2="391.1" y2="525.4" stroke="#14147a" stroke-width="1.2"/><path d="M396.1 525.4 L390.6 523.6 L390.6 527.2 Z" fill="#14147a"/><text class="it" x="264.1" y="522" font-size="5.6">away from satellite</text><text class="it" x="395.1" y="522" font-size="5.6" text-anchor="end">toward satellite</text><text class="it" x="316.70000000000005" y="519.5" font-size="9">V</text><text class="it" x="322.6" y="521" font-size="4.4" font-weight="bold">SLOPE</text><text class="it" x="329.6" y="533.6" font-size="5.6" text-anchor="middle" style="fill:#333">mm/yr</text><text class="it" x="274.7" y="542.2" font-size="6.4" text-anchor="middle">-40</text><text class="it" x="288.1" y="542.2" font-size="6.4" text-anchor="middle">-30</text><text class="it" x="303.1" y="542.2" font-size="6.4" text-anchor="middle">-20</text><text class="it" x="318.1" y="542.2" font-size="6.4" text-anchor="middle">-10</text><text class="it" x="333.1" y="542.2" font-size="6.4" text-anchor="middle">0</text><text class="it" x="347.8" y="542.2" font-size="6.4" text-anchor="middle">10</text><text class="it" x="363.1" y="542.2" font-size="6.4" text-anchor="middle">20</text><text class="it" x="377.9" y="542.2" font-size="6.4" text-anchor="middle">30</text><text class="it" x="391.7" y="542.2" font-size="6.4" text-anchor="middle">40</text>
<rect x="132.4" y="391.6" width="65.7" height="16" fill="#fff" stroke="#666" stroke-width="0.7"/>
<text class="it" x="137" y="403" font-size="9">V</text><text class="it" x="142.6" y="405" font-size="4.4" font-weight="bold">SLOPE</text><text x="158" y="403.2" font-size="8.5">⊥</text><text class="it" x="167" y="402.6" font-size="7.6">Aspect</text>
<rect x="340.7" y="391.9" width="66.3" height="15.3" fill="#fff" stroke="#666" stroke-width="0.7"/>
<text class="it" x="346" y="403" font-size="9">V</text><text class="it" x="351.6" y="405" font-size="4.4" font-weight="bold">SLOPE</text><text x="367.5" y="403.2" font-size="8.5">⊥</text><text class="it" x="377" y="402.6" font-size="7.6">Slope</text>
<line x1="95.5" y1="473.5" x2="117.11" y2="404.60" stroke="#b54a58" stroke-width="1.0" stroke-opacity="1.0"/><path d="M118.40 400.50 L118.59 405.59 L115.34 404.57 Z" fill="#b54a58" fill-opacity="1.0"/><line x1="95.5" y1="473.5" x2="123.80" y2="433.80" stroke="#ff7a30" stroke-width="1.0" stroke-opacity="1.0"/><path d="M126.30 430.30 L124.90 435.20 L122.13 433.22 Z" fill="#ff7a30" fill-opacity="1.0"/><line x1="95.5" y1="473.5" x2="123.61" y2="438.55" stroke="#ffa040" stroke-width="1.0" stroke-opacity="1.0"/><path d="M126.30 435.20 L124.62 440.01 L121.97 437.88 Z" fill="#ffa040" fill-opacity="1.0"/><line x1="95.5" y1="473.5" x2="137.57" y2="431.25" stroke="#f04a50" stroke-width="1.0" stroke-opacity="1.0"/><path d="M140.60 428.20 L138.42 432.80 L136.01 430.40 Z" fill="#f04a50" fill-opacity="1.0"/><line x1="95.5" y1="473.5" x2="145.97" y2="441.60" stroke="#f04848" stroke-width="1.0" stroke-opacity="1.0"/><path d="M149.60 439.30 L146.45 443.30 L144.63 440.43 Z" fill="#f04848" fill-opacity="1.0"/><line x1="95.5" y1="473.5" x2="95.50" y2="438.80" stroke="#ffa040" stroke-width="1.0" stroke-opacity="1.0"/><path d="M95.50 434.50 L97.20 439.30 L93.80 439.30 Z" fill="#ffa040" fill-opacity="1.0"/><line x1="95.5" y1="473.5" x2="98.56" y2="443.58" stroke="#ffc040" stroke-width="1.0" stroke-opacity="1.0"/><path d="M99.00 439.30 L100.20 444.25 L96.82 443.90 Z" fill="#ffc040" fill-opacity="1.0"/><line x1="95.5" y1="473.5" x2="102.93" y2="441.39" stroke="#ffb040" stroke-width="1.0" stroke-opacity="1.0"/><path d="M103.90 437.20 L104.47 442.26 L101.16 441.49 Z" fill="#ffb040" fill-opacity="1.0"/><line x1="95.5" y1="473.5" x2="110.95" y2="443.13" stroke="#ffc850" stroke-width="1.0" stroke-opacity="1.0"/><path d="M112.90 439.30 L112.24 444.35 L109.21 442.81 Z" fill="#ffc850" fill-opacity="1.0"/><line x1="95.5" y1="473.5" x2="139.52" y2="449.74" stroke="#ff8a30" stroke-width="1.0" stroke-opacity="1.0"/><path d="M143.30 447.70 L139.88 451.48 L138.27 448.48 Z" fill="#ff8a30" fill-opacity="1.0"/><line x1="95.5" y1="473.5" x2="135.29" y2="452.79" stroke="#ffa030" stroke-width="1.0" stroke-opacity="1.0"/><path d="M139.10 450.80 L135.63 454.52 L134.06 451.51 Z" fill="#ffa030" fill-opacity="1.0"/><line x1="95.5" y1="473.5" x2="140.20" y2="449.91" stroke="#ff9a40" stroke-width="1.0" stroke-opacity="1.0"/><path d="M144.00 447.90 L140.55 451.64 L138.96 448.64 Z" fill="#ff9a40" fill-opacity="1.0"/><line x1="95.5" y1="473.5" x2="136.80" y2="454.40" stroke="#ff8020" stroke-width="1.0" stroke-opacity="1.0"/><path d="M140.70 452.60 L137.06 456.16 L135.63 453.07 Z" fill="#ff8020" fill-opacity="1.0"/><line x1="95.5" y1="473.5" x2="159.01" y2="448.19" stroke="#f04848" stroke-width="1.0" stroke-opacity="1.0"/><path d="M163.00 446.60 L159.17 449.96 L157.91 446.80 Z" fill="#f04848" fill-opacity="1.0"/><line x1="95.5" y1="473.5" x2="160.98" y2="453.65" stroke="#f05050" stroke-width="1.0" stroke-opacity="1.0"/><path d="M165.10 452.40 L161.00 455.42 L160.01 452.17 Z" fill="#f05050" fill-opacity="1.0"/><line x1="95.5" y1="473.5" x2="186.83" y2="462.32" stroke="#b85060" stroke-width="1.0" stroke-opacity="1.0"/><path d="M191.10 461.80 L186.54 464.07 L186.13 460.70 Z" fill="#b85060" fill-opacity="1.0"/><line x1="95.5" y1="473.5" x2="138.45" y2="466.58" stroke="#ffc850" stroke-width="1.0" stroke-opacity="1.0"/><path d="M142.70 465.90 L138.23 468.34 L137.69 464.98 Z" fill="#ffc850" fill-opacity="1.0"/><line x1="95.5" y1="473.5" x2="166.00" y2="472.65" stroke="#f06070" stroke-width="1.0" stroke-opacity="1.0"/><path d="M170.30 472.60 L165.52 474.36 L165.48 470.96 Z" fill="#f06070" fill-opacity="1.0"/><line x1="95.5" y1="473.5" x2="172.20" y2="475.58" stroke="#f04858" stroke-width="1.0" stroke-opacity="1.0"/><path d="M176.50 475.70 L171.66 477.27 L171.75 473.87 Z" fill="#f04858" fill-opacity="1.0"/><line x1="95.5" y1="473.5" x2="126.71" y2="483.76" stroke="#ffd050" stroke-width="1.0" stroke-opacity="1.0"/><path d="M130.80 485.10 L125.71 485.22 L126.77 481.99 Z" fill="#ffd050" fill-opacity="1.0"/><line x1="95.5" y1="473.5" x2="115.67" y2="485.06" stroke="#40c0e8" stroke-width="1.0" stroke-opacity="1.0"/><path d="M119.40 487.20 L114.39 486.29 L116.08 483.34 Z" fill="#40c0e8" fill-opacity="1.0"/><line x1="95.5" y1="473.5" x2="112.29" y2="490.63" stroke="#48c8ec" stroke-width="1.0" stroke-opacity="1.0"/><path d="M115.30 493.70 L110.73 491.46 L113.15 489.08 Z" fill="#48c8ec" fill-opacity="1.0"/><line x1="95.5" y1="473.5" x2="73.33" y2="484.84" stroke="#48bce6" stroke-width="1.0" stroke-opacity="1.0"/><path d="M69.50 486.80 L73.00 483.10 L74.55 486.13 Z" fill="#48bce6" fill-opacity="1.0"/><line x1="95.5" y1="473.5" x2="63.37" y2="460.24" stroke="#f0c850" stroke-width="1.0" stroke-opacity="1.0"/><path d="M59.40 458.60 L64.49 458.86 L63.19 462.00 Z" fill="#f0c850" fill-opacity="1.0"/><line x1="95.5" y1="473.5" x2="131.11" y2="456.82" stroke="#ff9030" stroke-width="1.0" stroke-opacity="1.0"/><path d="M135.00 455.00 L131.37 458.58 L129.93 455.50 Z" fill="#ff9030" fill-opacity="1.0"/><line x1="95.5" y1="473.5" x2="133.18" y2="453.98" stroke="#ff8020" stroke-width="1.0" stroke-opacity="1.0"/><path d="M137.00 452.00 L133.52 455.72 L131.96 452.70 Z" fill="#ff8020" fill-opacity="1.0"/><line x1="95.5" y1="473.5" x2="134.81" y2="450.10" stroke="#ffb040" stroke-width="1.0" stroke-opacity="1.0"/><path d="M138.50 447.90 L135.25 451.82 L133.51 448.89 Z" fill="#ffb040" fill-opacity="1.0"/><line x1="95.5" y1="473.5" x2="145.86" y2="459.18" stroke="#ff7030" stroke-width="1.0" stroke-opacity="1.0"/><path d="M150.00 458.00 L145.85 460.95 L144.92 457.68 Z" fill="#ff7030" fill-opacity="1.0"/><line x1="95.5" y1="473.5" x2="150.78" y2="462.82" stroke="#ff9040" stroke-width="1.0" stroke-opacity="1.0"/><path d="M155.00 462.00 L150.61 464.58 L149.96 461.24 Z" fill="#ff9040" fill-opacity="1.0"/><line x1="95.5" y1="473.5" x2="106.46" y2="445.01" stroke="#ffd040" stroke-width="1.0" stroke-opacity="1.0"/><path d="M108.00 441.00 L107.86 446.09 L104.69 444.87 Z" fill="#ffd040" fill-opacity="1.0"/><line x1="95.5" y1="473.5" x2="115.70" y2="441.63" stroke="#ffb830" stroke-width="1.0" stroke-opacity="1.0"/><path d="M118.00 438.00 L116.87 442.96 L113.99 441.14 Z" fill="#ffb830" fill-opacity="1.0"/><line x1="95.5" y1="473.5" x2="119.13" y2="447.20" stroke="#ffa020" stroke-width="1.0" stroke-opacity="1.0"/><path d="M122.00 444.00 L120.06 448.71 L117.53 446.43 Z" fill="#ffa020" fill-opacity="1.0"/><line x1="95.5" y1="473.5" x2="127.60" y2="448.63" stroke="#ff9a20" stroke-width="1.0" stroke-opacity="1.0"/><path d="M131.00 446.00 L128.25 450.28 L126.16 447.60 Z" fill="#ff9a20" fill-opacity="1.0"/><line x1="95.5" y1="473.5" x2="141.94" y2="457.41" stroke="#ff8a28" stroke-width="1.0" stroke-opacity="1.0"/><path d="M146.00 456.00 L142.02 459.18 L140.91 455.97 Z" fill="#ff8a28" fill-opacity="1.0"/><line x1="95.5" y1="473.5" x2="155.72" y2="468.37" stroke="#ffb040" stroke-width="1.0" stroke-opacity="1.0"/><path d="M160.00 468.00 L155.36 470.10 L155.07 466.71 Z" fill="#ffb040" fill-opacity="1.0"/><line x1="95.5" y1="473.5" x2="123.72" y2="470.46" stroke="#ffc848" stroke-width="1.0" stroke-opacity="1.0"/><path d="M128.00 470.00 L123.41 472.20 L123.05 468.82 Z" fill="#ffc848" fill-opacity="1.0"/><line x1="296.9" y1="400.2" x2="261.22" y2="420.94" stroke="#40b8e0" stroke-width="1.0" stroke-opacity="1.0"/><path d="M257.50 423.10 L260.80 419.22 L262.50 422.16 Z" fill="#40b8e0" fill-opacity="1.0"/><line x1="296.9" y1="400.2" x2="262.12" y2="422.57" stroke="#48c4ea" stroke-width="1.0" stroke-opacity="1.0"/><path d="M258.50 424.90 L261.62 420.87 L263.46 423.73 Z" fill="#48c4ea" fill-opacity="1.0"/><line x1="296.9" y1="400.2" x2="259.01" y2="427.02" stroke="#40b8e0" stroke-width="1.0" stroke-opacity="1.0"/><path d="M255.50 429.50 L258.44 425.34 L260.40 428.11 Z" fill="#40b8e0" fill-opacity="1.0"/><line x1="296.9" y1="400.2" x2="367.80" y2="428.31" stroke="#ffa040" stroke-width="1.0" stroke-opacity="1.0"/><path d="M371.80 429.90 L366.71 429.71 L367.96 426.55 Z" fill="#ffa040" fill-opacity="1.0"/><line x1="296.9" y1="400.2" x2="395.52" y2="453.46" stroke="#f04a5a" stroke-width="1.0" stroke-opacity="1.0"/><path d="M399.30 455.50 L394.27 454.71 L395.88 451.72 Z" fill="#f04a5a" fill-opacity="1.0"/><line x1="296.9" y1="400.2" x2="391.94" y2="458.74" stroke="#f03a48" stroke-width="1.0" stroke-opacity="1.0"/><path d="M395.60 461.00 L390.62 459.93 L392.40 457.04 Z" fill="#f03a48" fill-opacity="1.0"/><line x1="296.9" y1="400.2" x2="386.49" y2="463.52" stroke="#ff2a2a" stroke-width="1.0" stroke-opacity="1.0"/><path d="M390.00 466.00 L385.10 464.62 L387.06 461.84 Z" fill="#ff2a2a" fill-opacity="1.0"/><line x1="296.9" y1="400.2" x2="378.40" y2="463.07" stroke="#f04858" stroke-width="1.0" stroke-opacity="1.0"/><path d="M381.80 465.70 L376.96 464.11 L379.04 461.42 Z" fill="#f04858" fill-opacity="1.0"/><line x1="296.9" y1="400.2" x2="370.70" y2="444.10" stroke="#ff8a30" stroke-width="1.0" stroke-opacity="1.0"/><path d="M374.40 446.30 L369.41 445.31 L371.14 442.39 Z" fill="#ff8a30" fill-opacity="1.0"/><line x1="296.9" y1="400.2" x2="371.82" y2="454.77" stroke="#ff5a28" stroke-width="1.0" stroke-opacity="1.0"/><path d="M375.30 457.30 L370.42 455.85 L372.42 453.10 Z" fill="#ff5a28" fill-opacity="1.0"/><line x1="296.9" y1="400.2" x2="350.73" y2="446.21" stroke="#ffb040" stroke-width="1.0" stroke-opacity="1.0"/><path d="M354.00 449.00 L349.25 447.17 L351.46 444.59 Z" fill="#ffb040" fill-opacity="1.0"/><line x1="296.9" y1="400.2" x2="348.28" y2="452.43" stroke="#ffa030" stroke-width="1.0" stroke-opacity="1.0"/><path d="M351.30 455.50 L346.72 453.27 L349.15 450.89 Z" fill="#ffa030" fill-opacity="1.0"/><line x1="296.9" y1="400.2" x2="356.96" y2="438.01" stroke="#ff9030" stroke-width="1.0" stroke-opacity="1.0"/><path d="M360.60 440.30 L355.63 439.18 L357.44 436.30 Z" fill="#ff9030" fill-opacity="1.0"/><line x1="296.9" y1="400.2" x2="349.06" y2="445.77" stroke="#ff9a30" stroke-width="1.0" stroke-opacity="1.0"/><path d="M352.30 448.60 L347.57 446.72 L349.80 444.16 Z" fill="#ff9a30" fill-opacity="1.0"/><line x1="296.9" y1="400.2" x2="361.58" y2="449.40" stroke="#ff6a20" stroke-width="1.0" stroke-opacity="1.0"/><path d="M365.00 452.00 L360.15 450.45 L362.21 447.74 Z" fill="#ff6a20" fill-opacity="1.0"/><line x1="296.9" y1="400.2" x2="364.39" y2="443.67" stroke="#ff7a20" stroke-width="1.0" stroke-opacity="1.0"/><path d="M368.00 446.00 L363.04 444.83 L364.89 441.97 Z" fill="#ff7a20" fill-opacity="1.0"/><line x1="296.9" y1="400.2" x2="382.38" y2="486.64" stroke="#c04858" stroke-width="1.0" stroke-opacity="1.0"/><path d="M385.40 489.70 L380.82 487.48 L383.23 485.09 Z" fill="#c04858" fill-opacity="1.0"/><line x1="296.9" y1="400.2" x2="398.83" y2="493.30" stroke="#b84858" stroke-width="1.0" stroke-opacity="1.0"/><path d="M402.00 496.20 L397.31 494.22 L399.60 491.71 Z" fill="#b84858" fill-opacity="1.0"/><line x1="296.9" y1="400.2" x2="400.87" y2="497.86" stroke="#b04050" stroke-width="1.0" stroke-opacity="1.0"/><path d="M404.00 500.80 L399.34 498.75 L401.67 496.27 Z" fill="#b04050" fill-opacity="1.0"/><line x1="296.9" y1="400.2" x2="395.50" y2="507.83" stroke="#a83848" stroke-width="1.0" stroke-opacity="1.0"/><path d="M398.40 511.00 L393.90 508.61 L396.41 506.31 Z" fill="#a83848" fill-opacity="1.0"/><line x1="296.9" y1="400.2" x2="341.89" y2="443.03" stroke="#ffc040" stroke-width="1.0" stroke-opacity="1.0"/><path d="M345.00 446.00 L340.35 443.92 L342.70 441.46 Z" fill="#ffc040" fill-opacity="1.0"/><line x1="296.9" y1="400.2" x2="376.31" y2="447.79" stroke="#ff5030" stroke-width="1.0" stroke-opacity="1.0"/><path d="M380.00 450.00 L375.01 448.99 L376.76 446.07 Z" fill="#ff5030" fill-opacity="1.0"/><line x1="296.9" y1="400.2" x2="368.68" y2="459.27" stroke="#ff3a20" stroke-width="1.0" stroke-opacity="1.0"/><path d="M372.00 462.00 L367.21 460.26 L369.37 457.64 Z" fill="#ff3a20" fill-opacity="1.0"/><line x1="296.9" y1="400.2" x2="382.39" y2="455.66" stroke="#f04040" stroke-width="1.0" stroke-opacity="1.0"/><path d="M386.00 458.00 L381.05 456.81 L382.90 453.96 Z" fill="#f04040" fill-opacity="1.0"/><line x1="296.9" y1="400.2" x2="358.78" y2="455.15" stroke="#ff7020" stroke-width="1.0" stroke-opacity="1.0"/><path d="M362.00 458.00 L357.28 456.08 L359.54 453.54 Z" fill="#ff7020" fill-opacity="1.0"/><line x1="296.9" y1="400.2" x2="352.77" y2="449.17" stroke="#ffb838" stroke-width="1.0" stroke-opacity="1.0"/><path d="M356.00 452.00 L351.27 450.11 L353.51 447.56 Z" fill="#ffb838" fill-opacity="1.0"/><line x1="296.9" y1="400.2" x2="387.65" y2="473.30" stroke="#d04050" stroke-width="1.0" stroke-opacity="1.0"/><path d="M391.00 476.00 L386.20 474.31 L388.33 471.66 Z" fill="#d04050" fill-opacity="1.0"/><line x1="296.9" y1="400.2" x2="375.88" y2="475.04" stroke="#c84858" stroke-width="1.0" stroke-opacity="1.0"/><path d="M379.00 478.00 L374.35 475.93 L376.69 473.46 Z" fill="#c84858" fill-opacity="1.0"/><line x1="296.9" y1="400.2" x2="392.48" y2="467.52" stroke="#e04050" stroke-width="1.0" stroke-opacity="1.0"/><path d="M396.00 470.00 L391.10 468.63 L393.05 465.85 Z" fill="#e04050" fill-opacity="1.0"/><line x1="296.9" y1="400.2" x2="362.89" y2="463.03" stroke="#ff5a20" stroke-width="1.0" stroke-opacity="1.0"/><path d="M366.00 466.00 L361.35 463.92 L363.70 461.46 Z" fill="#ff5a20" fill-opacity="1.0"/><text x="96.4" y="391.3" font-size="4.6" text-anchor="middle">North</text><path d="M95.8 393 L94.6 397.5 L95.8 396.6 L97 397.5 Z M95.8 396.6 V401.5" stroke="#111" stroke-width="0.6" fill="#111"/><path d="M95.8 490.5 V496 M95.8 499 L94.6 494.5 L95.8 495.4 L97 494.5 Z" stroke="#111" stroke-width="0.6" fill="#111"/><text x="96.2" y="505.3" font-size="4.6" text-anchor="middle">South</text><text x="32.8" y="472.3" font-size="4.6" text-anchor="middle">West</text><path d="M35 476.4 L39.5 475.2 L38.6 476.4 L39.5 477.6 Z M38.6 476.4 H44" stroke="#111" stroke-width="0.6" fill="#111"/><path d="M184 476.6 H189 M192.5 476.6 L188 475.4 L188.9 476.6 L188 477.8 Z" stroke="#111" stroke-width="0.6" fill="#111"/><text x="195.5" y="483.8" font-size="4.6" text-anchor="middle">East</text><text x="257.3" y="399" font-size="5">-</text>
</svg></body></html>
